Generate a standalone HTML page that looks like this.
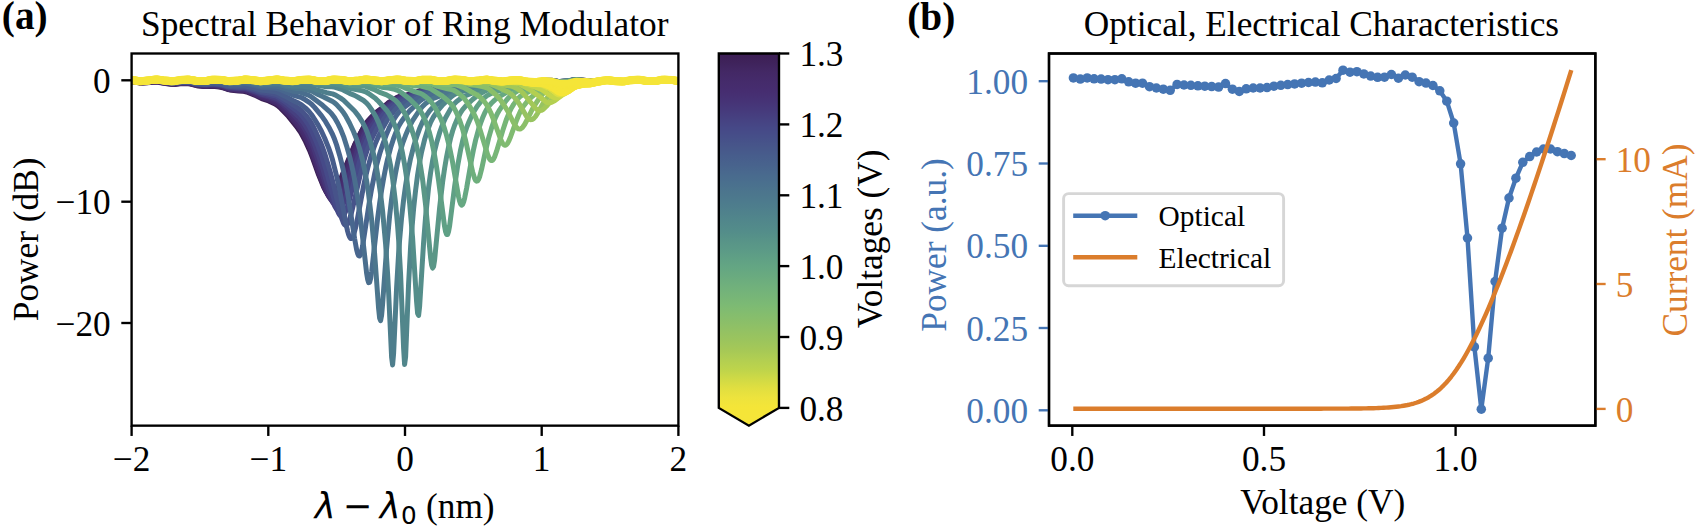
<!DOCTYPE html>
<html lang="en"><head><meta charset="utf-8"><title>Ring Modulator Figure</title>
<style>html,body{margin:0;padding:0;background:#fff;overflow:hidden}svg text{white-space:pre}</style></head>
<body>
<svg width="1699" height="528" viewBox="0 0 1699 528" style="display:block">
<rect width="1699" height="528" fill="#fff"/>
<defs>
<clipPath id="c1"><rect x="131.6" y="53.5" width="546.8" height="372.15"/></clipPath>
<linearGradient id="vg" x1="0" y1="0" x2="0" y2="1">
<stop offset="0.0000" stop-color="#3c1e54"/>
<stop offset="0.0250" stop-color="#3f235b"/>
<stop offset="0.0500" stop-color="#432865"/>
<stop offset="0.0750" stop-color="#452b6b"/>
<stop offset="0.1000" stop-color="#462d70"/>
<stop offset="0.1250" stop-color="#463275"/>
<stop offset="0.1500" stop-color="#46397b"/>
<stop offset="0.1750" stop-color="#464181"/>
<stop offset="0.2000" stop-color="#464887"/>
<stop offset="0.2250" stop-color="#464f89"/>
<stop offset="0.2500" stop-color="#47568a"/>
<stop offset="0.2750" stop-color="#475d8c"/>
<stop offset="0.3000" stop-color="#48638d"/>
<stop offset="0.3250" stop-color="#496a8e"/>
<stop offset="0.3500" stop-color="#4a708e"/>
<stop offset="0.3750" stop-color="#4c768d"/>
<stop offset="0.4000" stop-color="#4d7b8d"/>
<stop offset="0.4250" stop-color="#4f818c"/>
<stop offset="0.4500" stop-color="#51878b"/>
<stop offset="0.4750" stop-color="#538c8a"/>
<stop offset="0.5000" stop-color="#579388"/>
<stop offset="0.5250" stop-color="#5b9987"/>
<stop offset="0.5500" stop-color="#5fa085"/>
<stop offset="0.5750" stop-color="#64a683"/>
<stop offset="0.6000" stop-color="#6aab7f"/>
<stop offset="0.6250" stop-color="#70b07c"/>
<stop offset="0.6500" stop-color="#76b578"/>
<stop offset="0.6750" stop-color="#7cba74"/>
<stop offset="0.7000" stop-color="#84bd6e"/>
<stop offset="0.7250" stop-color="#8cbf68"/>
<stop offset="0.7500" stop-color="#95c262"/>
<stop offset="0.7750" stop-color="#9dc55c"/>
<stop offset="0.8000" stop-color="#a7c956"/>
<stop offset="0.8250" stop-color="#b3cf51"/>
<stop offset="0.8500" stop-color="#bed44b"/>
<stop offset="0.8750" stop-color="#d0da45"/>
<stop offset="0.9000" stop-color="#e1df40"/>
<stop offset="0.9250" stop-color="#ede33d"/>
<stop offset="0.9500" stop-color="#f4e538"/>
<stop offset="0.9750" stop-color="#f5e538"/>
<stop offset="1.0000" stop-color="#f5e538"/>
</linearGradient>
</defs>
<g clip-path="url(#c1)" fill="none" stroke-width="5.0" stroke-linejoin="round" stroke-linecap="round">
<polyline stroke="#3c1e54" points="131.6,81.7 134.6,82.1 138.6,82.9 140.6,83.2 156.6,82.0 163.6,83.2 172.6,84.5 174.6,84.4 179.6,83.8 188.6,83.8 190.6,84.1 196.6,85.7 203.6,86.5 206.6,86.6 212.6,86.2 219.6,87.1 222.6,87.7 227.6,89.5 229.6,89.9 238.6,91.1 243.6,91.3 246.6,92.0 254.6,95.1 261.6,98.6 268.6,100.9 275.6,104.3 277.6,105.6 279.6,107.3 287.6,115.5 297.6,128.0 300.6,132.4 305.6,141.6 309.6,150.4 312.6,158.1 318.6,174.8 323.6,187.0 325.6,190.8 326.6,192.2 327.6,193.3 328.6,194.0 329.6,194.4 330.6,194.3 331.6,193.9 333.6,192.3 335.6,189.5 337.6,185.9 339.6,181.4 345.6,166.4 354.6,144.7 360.6,132.6 363.6,127.2 365.6,124.0 367.6,121.4 369.6,119.1 373.6,115.1 376.6,112.4 382.6,108.0 388.6,103.1 395.6,98.8 398.6,97.3 400.6,96.8 404.6,96.0 413.6,93.8 415.6,93.1 421.6,90.6 429.6,88.9 431.6,88.7 436.6,88.9 438.6,88.8 446.6,87.5 452.6,85.7 455.6,85.3 463.6,85.1 468.6,85.6 471.6,85.5 486.6,82.8 493.6,83.4 502.6,83.8 504.6,83.5 509.6,82.4 518.6,81.6 520.6,81.7 526.6,82.6 533.6,82.6 536.6,82.4 542.6,81.1 550.6,81.1 552.6,81.2 557.6,82.1 559.6,82.2 568.6,81.5 573.6,80.5 575.6,80.4 584.6,81.1 589.6,81.9 591.6,82.0 597.6,81.1 607.6,80.1 614.6,81.1 622.6,81.7 625.6,81.5 630.6,80.5 638.6,80.1 641.6,80.4 645.6,81.2 647.6,81.4 656.6,81.3 661.6,80.3 664.6,80.0 672.6,80.4 677.6,81.3"/>
<polyline stroke="#41255f" points="131.6,80.8 134.6,81.2 139.6,82.2 141.6,82.3 156.6,81.1 158.6,81.3 163.6,82.3 172.6,83.5 174.6,83.5 179.6,82.9 188.6,82.9 190.6,83.2 196.6,84.7 203.6,85.5 206.6,85.7 212.6,85.2 220.6,86.2 222.6,86.7 227.6,88.4 229.6,88.9 238.6,90.0 243.6,90.2 246.6,90.8 254.6,93.9 261.6,97.3 268.6,99.6 276.6,103.4 278.6,104.8 280.6,106.7 288.6,114.9 297.6,126.0 299.6,128.7 301.6,131.9 305.6,139.4 309.6,148.1 312.6,155.8 320.6,178.4 324.6,188.2 326.6,192.0 327.6,193.4 328.6,194.4 329.6,195.0 330.6,195.2 331.6,195.1 332.6,194.6 333.6,193.8 335.6,191.4 337.6,187.9 340.6,181.0 351.6,152.9 355.6,143.3 358.6,136.9 362.6,129.2 364.6,125.7 366.6,122.6 368.6,120.1 371.6,116.9 374.6,113.8 377.6,111.2 382.6,107.5 387.6,103.3 389.6,101.8 396.6,97.6 399.6,96.3 405.6,95.1 413.6,93.0 415.6,92.3 421.6,89.8 429.6,88.1 431.6,87.8 436.6,88.0 439.6,87.8 447.6,86.4 452.6,84.9 455.6,84.4 463.6,84.3 469.6,84.8 471.6,84.7 486.6,82.0 488.6,82.0 493.6,82.5 502.6,82.9 504.6,82.7 509.6,81.6 517.6,80.8 520.6,80.8 526.6,81.7 534.6,81.7 536.6,81.5 541.6,80.4 544.6,80.2 551.6,80.3 557.6,81.2 559.6,81.4 568.6,80.7 573.6,79.7 575.6,79.5 584.6,80.3 589.6,81.0 591.6,81.1 597.6,80.3 607.6,79.3 614.6,80.3 622.6,80.8 625.6,80.6 630.6,79.7 638.6,79.3 641.6,79.5 645.6,80.3 648.6,80.6 656.6,80.4 662.6,79.3 664.6,79.2 672.6,79.6 677.6,80.5"/>
<polyline stroke="#442b6a" points="131.6,81.7 134.6,82.0 139.6,82.9 141.6,83.1 155.6,81.9 157.6,81.9 163.6,83.0 172.6,84.3 174.6,84.3 180.6,83.6 188.6,83.6 190.6,83.9 196.6,85.4 204.6,86.3 207.6,86.3 212.6,85.8 215.6,86.1 222.6,87.3 229.6,89.5 238.6,90.5 244.6,90.8 246.6,91.2 255.6,94.7 261.6,97.6 268.6,99.7 276.6,103.4 278.6,104.7 280.6,106.4 289.6,115.5 298.6,126.4 300.6,129.2 302.6,132.5 306.6,140.1 310.6,149.0 313.6,157.1 321.6,180.2 325.6,190.7 327.6,194.7 328.6,196.2 329.6,197.3 330.6,198.0 331.6,198.3 332.6,198.2 333.6,197.8 334.6,197.1 336.6,194.6 338.6,191.0 341.6,183.7 352.6,154.3 355.6,146.7 361.6,133.8 364.6,128.2 366.6,124.9 370.6,119.9 374.6,115.7 377.6,112.9 382.6,109.0 389.6,103.1 396.6,98.8 399.6,97.4 405.6,96.1 414.6,93.7 420.6,91.1 422.6,90.5 429.6,89.0 432.6,88.7 436.6,88.9 439.6,88.7 447.6,87.3 453.6,85.6 455.6,85.3 464.6,85.2 469.6,85.6 471.6,85.6 486.6,82.9 488.6,82.8 493.6,83.4 502.6,83.8 504.6,83.6 510.6,82.3 517.6,81.7 520.6,81.7 526.6,82.6 534.6,82.6 537.6,82.2 541.6,81.3 544.6,81.0 552.6,81.2 557.6,82.1 560.6,82.2 568.6,81.6 575.6,80.4 585.6,81.2 591.6,82.0 593.6,81.9 598.6,81.1 607.6,80.2 609.6,80.3 614.6,81.2 623.6,81.7 625.6,81.6 631.6,80.5 638.6,80.2 641.6,80.4 646.6,81.4 648.6,81.5 656.6,81.3 662.6,80.2 664.6,80.1 673.6,80.6 677.6,81.3"/>
<polyline stroke="#462d70" points="131.6,81.4 140.6,82.8 156.6,81.6 162.6,82.6 172.6,83.9 179.6,83.2 187.6,83.2 190.6,83.6 195.6,84.9 203.6,85.8 206.6,85.9 210.6,85.4 212.6,85.3 219.6,86.2 222.6,86.8 227.6,88.5 229.6,88.9 237.6,89.7 243.6,89.9 245.6,90.2 254.6,93.4 260.6,96.2 268.6,98.5 274.6,100.9 276.6,101.9 278.6,103.3 280.6,105.0 286.6,110.4 289.6,113.5 298.6,123.7 300.6,126.4 303.6,131.3 307.6,138.8 311.6,148.0 316.6,162.2 324.6,186.2 327.6,194.0 329.6,197.8 330.6,199.2 331.6,200.3 332.6,201.0 333.6,201.3 334.6,201.2 335.6,200.7 336.6,199.7 337.6,198.4 339.6,194.6 343.6,184.2 352.6,158.4 355.6,150.3 361.6,136.3 364.6,130.3 366.6,126.9 368.6,124.0 371.6,120.3 376.6,114.8 381.6,110.6 388.6,104.3 395.6,99.6 398.6,98.0 413.6,94.0 421.6,90.7 429.6,88.9 431.6,88.7 436.6,88.9 438.6,88.7 446.6,87.4 452.6,85.6 454.6,85.2 463.6,85.0 468.6,85.5 470.6,85.5 486.6,82.7 501.6,83.6 503.6,83.5 509.6,82.3 517.6,81.4 520.6,81.5 525.6,82.4 533.6,82.4 536.6,82.2 540.6,81.2 542.6,80.9 550.6,80.9 552.6,81.1 557.6,82.0 559.6,82.0 567.6,81.5 573.6,80.4 575.6,80.3 584.6,81.0 589.6,81.7 591.6,81.8 606.6,80.0 608.6,80.1 613.6,80.9 622.6,81.6 624.6,81.5 630.6,80.4 638.6,80.0 640.6,80.1 645.6,81.1 647.6,81.3 655.6,81.2 657.6,81.0 661.6,80.1 664.6,79.9 672.6,80.3 677.6,81.2"/>
<polyline stroke="#463678" points="131.6,80.9 134.6,81.2 139.6,82.1 141.6,82.3 155.6,81.1 157.6,81.0 163.6,82.1 172.6,83.3 174.6,83.3 180.6,82.6 188.6,82.6 191.6,83.0 196.6,84.3 204.6,85.1 207.6,85.1 212.6,84.6 215.6,84.8 222.6,85.9 228.6,87.8 230.6,88.1 239.6,88.9 244.6,89.0 246.6,89.4 255.6,92.5 261.6,95.2 269.6,97.3 275.6,99.6 277.6,100.6 280.6,102.7 288.6,109.8 297.6,119.2 299.6,121.4 301.6,124.1 305.6,130.6 309.6,138.3 313.6,148.1 319.6,165.7 326.6,188.0 329.6,196.4 331.6,200.6 332.6,202.3 333.6,203.5 334.6,204.4 335.6,204.8 336.6,204.8 337.6,204.2 338.6,203.2 339.6,201.7 341.6,197.5 345.6,186.3 354.6,158.4 357.6,150.0 363.6,135.5 365.6,131.4 367.6,127.9 369.6,124.9 373.6,119.7 376.6,116.2 378.6,114.2 389.6,104.2 396.6,99.4 399.6,97.8 405.6,96.3 414.6,93.6 422.6,90.2 429.6,88.7 432.6,88.3 437.6,88.5 439.6,88.3 447.6,86.8 453.6,85.1 455.6,84.7 464.6,84.6 469.6,85.0 471.6,85.0 485.6,82.4 487.6,82.2 493.6,82.8 502.6,83.2 504.6,83.0 510.6,81.7 518.6,81.0 521.6,81.2 526.6,82.0 534.6,82.0 537.6,81.6 542.6,80.5 544.6,80.4 552.6,80.6 557.6,81.5 560.6,81.6 568.6,81.0 575.6,79.8 585.6,80.6 591.6,81.4 593.6,81.3 598.6,80.5 607.6,79.6 609.6,79.7 614.6,80.6 623.6,81.1 625.6,81.0 631.6,79.9 639.6,79.6 641.6,79.8 646.6,80.8 648.6,80.9 656.6,80.8 662.6,79.7 664.6,79.5 673.6,80.0 677.6,80.7"/>
<polyline stroke="#464080" points="131.6,81.1 134.6,81.4 138.6,82.2 140.6,82.4 156.6,81.1 158.6,81.3 163.6,82.3 172.6,83.4 174.6,83.3 179.6,82.7 188.6,82.6 190.6,82.9 196.6,84.3 203.6,85.0 206.6,85.1 212.6,84.5 219.6,85.2 222.6,85.7 227.6,87.3 229.6,87.7 238.6,88.5 243.6,88.4 246.6,88.9 254.6,91.5 261.6,94.3 267.6,95.5 274.6,97.7 276.6,98.5 278.6,99.6 288.6,107.4 299.6,117.8 303.6,123.0 308.6,131.2 310.6,135.2 312.6,139.8 318.6,155.9 321.6,164.9 328.6,188.6 332.6,200.9 334.6,205.8 335.6,207.7 336.6,209.2 337.6,210.1 338.6,210.4 339.6,210.1 340.6,209.2 341.6,207.7 342.6,205.8 344.6,200.9 347.6,191.8 354.6,167.4 357.6,157.8 360.6,149.1 363.6,141.2 365.6,136.6 367.6,132.6 370.6,127.6 373.6,123.2 376.6,119.3 378.6,117.1 386.6,108.7 389.6,105.9 396.6,100.6 399.6,99.0 414.6,94.4 421.6,91.2 429.6,89.2 431.6,89.0 436.6,89.1 439.6,88.8 447.6,87.3 452.6,85.7 454.6,85.3 463.6,85.0 470.6,85.4 486.6,82.6 488.6,82.6 493.6,83.1 502.6,83.5 504.6,83.3 509.6,82.1 517.6,81.3 520.6,81.4 526.6,82.3 533.6,82.3 536.6,82.1 541.6,80.9 544.6,80.7 551.6,80.8 557.6,81.8 559.6,81.9 568.6,81.2 573.6,80.3 575.6,80.1 584.6,80.9 589.6,81.6 591.6,81.7 597.6,80.9 607.6,79.9 614.6,80.9 622.6,81.5 625.6,81.2 630.6,80.3 638.6,79.9 641.6,80.1 645.6,81.0 647.6,81.2 656.6,81.1 661.6,80.1 664.6,79.8 672.6,80.2 677.6,81.1"/>
<polyline stroke="#464a88" points="131.6,80.8 138.6,82.0 140.6,82.1 149.6,81.5 154.6,80.8 156.6,80.8 171.6,83.0 173.6,83.0 178.6,82.3 187.6,82.0 189.6,82.3 195.6,83.7 203.6,84.5 205.6,84.5 211.6,83.8 219.6,84.5 221.6,84.9 226.6,86.4 228.6,86.8 236.6,87.5 242.6,87.3 245.6,87.7 253.6,90.0 260.6,92.6 266.6,93.7 274.6,95.7 276.6,96.4 278.6,97.5 287.6,103.7 292.6,107.8 297.6,111.6 299.6,113.4 302.6,116.7 305.6,120.6 307.6,123.5 309.6,126.8 312.6,132.9 315.6,139.9 318.6,147.4 321.6,155.8 326.6,172.1 334.6,201.4 337.6,210.9 338.6,213.2 339.6,214.9 340.6,216.0 341.6,216.4 342.6,216.1 343.6,215.3 344.6,213.8 346.6,209.2 349.6,199.2 355.6,175.7 360.6,158.0 364.6,145.9 366.6,141.0 368.6,136.7 372.6,129.2 375.6,124.4 385.6,111.9 388.6,108.6 394.6,103.3 397.6,101.2 399.6,100.2 408.6,96.9 413.6,95.3 420.6,91.9 428.6,89.6 430.6,89.3 435.6,89.3 438.6,89.0 446.6,87.5 451.6,85.9 453.6,85.4 462.6,84.9 469.6,85.4 479.6,83.8 485.6,82.5 487.6,82.5 491.6,82.9 501.6,83.4 503.6,83.2 508.6,82.1 517.6,81.1 519.6,81.2 525.6,82.1 533.6,82.2 535.6,82.0 541.6,80.8 549.6,80.6 551.6,80.7 556.6,81.6 558.6,81.8 567.6,81.2 572.6,80.2 574.6,80.0 583.6,80.6 588.6,81.4 590.6,81.6 606.6,79.7 613.6,80.7 621.6,81.3 624.6,81.2 629.6,80.2 638.6,79.7 640.6,79.9 645.6,80.9 647.6,81.0 655.6,81.0 661.6,79.8 663.6,79.7 671.6,80.0 677.6,81.1"/>
<polyline stroke="#47538a" points="131.6,81.1 134.6,81.4 138.6,82.2 140.6,82.4 156.6,81.0 158.6,81.2 163.6,82.1 172.6,83.2 174.6,83.1 179.6,82.3 188.6,82.2 190.6,82.4 195.6,83.7 197.6,83.9 205.6,84.5 211.6,83.8 213.6,83.8 221.6,84.6 227.6,86.3 229.6,86.6 238.6,87.1 243.6,86.9 245.6,87.1 254.6,89.5 261.6,91.9 268.6,92.8 275.6,94.4 277.6,95.0 279.6,96.1 287.6,101.0 293.6,105.2 298.6,108.4 300.6,109.9 303.6,112.8 306.6,116.3 309.6,120.2 311.6,123.5 314.6,129.3 320.6,142.5 322.6,147.6 325.6,156.4 330.6,173.1 333.6,184.9 339.6,211.0 341.6,218.2 343.6,223.3 344.6,224.7 345.6,225.4 346.6,225.1 347.6,224.0 348.6,222.1 350.6,216.1 352.6,208.1 360.6,173.3 363.6,161.7 365.6,154.9 367.6,149.0 370.6,141.5 373.6,135.0 376.6,129.3 379.6,124.6 387.6,113.4 390.6,110.0 396.6,104.4 398.6,102.9 400.6,101.9 409.6,98.1 414.6,96.2 420.6,93.1 423.6,92.0 429.6,90.4 432.6,90.0 436.6,90.0 438.6,89.8 447.6,88.0 452.6,86.3 454.6,85.9 463.6,85.5 470.6,85.9 486.6,82.9 488.6,82.9 493.6,83.4 502.6,83.8 504.6,83.5 509.6,82.4 517.6,81.6 520.6,81.6 526.6,82.6 533.6,82.6 536.6,82.3 541.6,81.2 544.6,81.0 551.6,81.1 557.6,82.1 559.6,82.2 568.6,81.5 573.6,80.5 575.6,80.4 584.6,81.1 589.6,81.9 591.6,82.0 597.6,81.1 607.6,80.1 614.6,81.2 622.6,81.7 625.6,81.5 630.6,80.5 638.6,80.2 641.6,80.4 645.6,81.2 647.6,81.5 656.6,81.3 661.6,80.3 664.6,80.1 672.6,80.5 677.6,81.4"/>
<polyline stroke="#475d8c" points="131.6,81.0 134.6,81.4 138.6,82.2 140.6,82.3 149.6,81.6 154.6,80.9 156.6,80.8 162.6,81.8 172.6,82.9 179.6,82.0 187.6,81.8 189.6,81.9 195.6,83.3 203.6,84.0 206.6,83.9 211.6,83.2 213.6,83.2 221.6,83.9 226.6,85.3 229.6,85.8 237.6,86.1 242.6,85.8 245.6,86.0 254.6,88.1 260.6,90.0 267.6,90.7 275.6,91.9 277.6,92.5 287.6,97.5 293.6,100.9 298.6,103.1 301.6,104.9 305.6,108.2 308.6,111.0 311.6,114.7 314.6,119.3 318.6,125.9 321.6,131.5 324.6,138.0 328.6,147.9 330.6,153.6 332.6,160.1 336.6,176.0 339.6,190.2 345.6,221.9 347.6,231.1 348.6,234.6 349.6,237.1 350.6,238.4 351.6,238.4 352.6,237.2 353.6,234.9 355.6,227.5 357.6,217.9 363.6,186.0 365.6,176.6 367.6,168.3 370.6,157.6 373.6,148.4 375.6,143.0 378.6,136.1 383.6,126.4 387.6,119.4 391.6,113.9 396.6,108.1 398.6,106.4 400.6,105.0 408.6,100.7 414.6,97.9 420.6,94.3 423.6,93.1 429.6,91.3 431.6,90.9 436.6,90.7 438.6,90.5 446.6,88.7 453.6,86.5 462.6,85.8 468.6,86.2 470.6,86.1 480.6,84.3 484.6,83.3 486.6,83.1 501.6,84.0 503.6,83.8 509.6,82.5 517.6,81.7 519.6,81.7 525.6,82.6 533.6,82.7 536.6,82.3 541.6,81.2 543.6,81.1 551.6,81.1 556.6,82.0 559.6,82.2 567.6,81.7 574.6,80.5 583.6,81.1 589.6,82.0 591.6,82.0 606.6,80.2 608.6,80.3 613.6,81.1 622.6,81.8 624.6,81.7 630.6,80.6 638.6,80.2 640.6,80.4 645.6,81.4 647.6,81.5 655.6,81.5 661.6,80.4 663.6,80.2 672.6,80.6 677.6,81.5"/>
<polyline stroke="#48668e" points="131.6,80.1 135.6,80.5 140.6,81.3 142.6,81.4 156.6,79.9 158.6,79.9 164.6,80.9 173.6,81.8 175.6,81.7 181.6,80.7 189.6,80.6 191.6,80.8 196.6,82.0 199.6,82.3 206.6,82.5 212.6,81.7 215.6,81.7 223.6,82.6 228.6,83.8 230.6,84.1 239.6,84.2 244.6,83.8 246.6,83.8 256.6,86.0 262.6,87.6 269.6,87.8 276.6,88.6 279.6,89.3 285.6,92.0 294.6,95.6 301.6,97.7 304.6,99.3 309.6,102.6 311.6,104.2 314.6,107.4 321.6,115.9 325.6,121.7 329.6,128.6 332.6,134.5 334.6,139.3 336.6,145.0 339.6,155.2 341.6,162.9 343.6,171.7 345.6,181.7 348.6,199.1 354.6,238.6 356.6,249.6 357.6,253.5 358.6,255.7 359.6,256.0 360.6,254.4 361.6,251.0 362.6,246.1 369.6,200.3 371.6,188.9 374.6,173.9 376.6,165.2 379.6,154.1 382.6,144.8 386.6,134.0 389.6,127.1 392.6,121.4 396.6,115.2 399.6,111.3 402.6,108.5 409.6,103.3 416.6,98.9 422.6,94.9 425.6,93.6 431.6,91.6 433.6,91.2 438.6,90.8 440.6,90.4 448.6,88.2 455.6,85.9 457.6,85.7 465.6,85.4 471.6,85.6 478.6,84.1 487.6,82.5 489.6,82.5 494.6,83.0 503.6,83.2 505.6,82.9 511.6,81.6 518.6,81.0 521.6,81.0 526.6,81.9 529.6,82.0 536.6,81.7 542.6,80.5 544.6,80.2 553.6,80.5 558.6,81.4 560.6,81.5 569.6,80.7 574.6,79.8 576.6,79.7 592.6,81.3 599.6,80.2 608.6,79.5 610.6,79.6 615.6,80.6 623.6,81.0 626.6,80.8 632.6,79.7 639.6,79.6 642.6,79.8 646.6,80.6 649.6,80.9 657.6,80.6 663.6,79.5 665.6,79.4 673.6,79.9 677.6,80.5"/>
<polyline stroke="#4a6e8e" points="131.6,80.4 134.6,80.7 138.6,81.5 140.6,81.6 149.6,80.8 154.6,80.1 156.6,80.0 162.6,80.9 172.6,81.9 178.6,81.0 187.6,80.5 189.6,80.6 195.6,81.8 203.6,82.3 206.6,82.2 210.6,81.4 213.6,81.3 221.6,81.8 226.6,83.0 229.6,83.4 237.6,83.4 242.6,82.8 244.6,82.8 253.6,84.2 260.6,85.9 266.6,85.9 276.6,86.3 278.6,86.7 282.6,88.2 292.6,91.2 300.6,92.4 307.6,94.8 309.6,95.7 311.6,97.0 322.6,105.3 329.6,111.6 331.6,113.7 334.6,117.8 337.6,123.0 340.6,129.1 343.6,136.6 346.6,145.9 349.6,156.7 351.6,164.8 353.6,174.1 355.6,184.9 357.6,197.4 360.6,219.7 366.6,273.0 367.6,279.2 368.6,282.6 369.6,282.3 370.6,278.6 371.6,272.1 377.6,218.6 379.6,203.5 381.6,190.2 383.6,178.5 385.6,168.1 387.6,159.1 390.6,147.8 393.6,138.4 396.6,130.6 398.6,126.3 401.6,121.2 405.6,115.7 409.6,110.9 418.6,102.2 420.6,100.4 422.6,99.0 427.6,96.2 430.6,94.8 438.6,93.1 446.6,90.5 453.6,87.8 455.6,87.4 462.6,86.7 468.6,86.8 470.6,86.7 479.6,84.8 484.6,83.5 486.6,83.3 501.6,83.9 503.6,83.7 509.6,82.4 517.6,81.4 519.6,81.4 525.6,82.3 533.6,82.4 536.6,82.0 540.6,81.1 543.6,80.8 551.6,80.8 556.6,81.7 559.6,81.9 567.6,81.3 574.6,80.1 583.6,80.7 590.6,81.6 606.6,79.8 608.6,79.9 613.6,80.8 622.6,81.4 624.6,81.3 630.6,80.2 638.6,79.8 640.6,80.0 645.6,81.0 647.6,81.2 655.6,81.1 661.6,80.0 663.6,79.8 671.6,80.1 677.6,81.2"/>
<polyline stroke="#4c768d" points="131.6,80.2 135.6,80.6 140.6,81.4 142.6,81.4 147.6,80.7 157.6,79.8 159.6,79.9 164.6,80.8 173.6,81.6 175.6,81.4 181.6,80.4 189.6,80.2 191.6,80.4 197.6,81.6 205.6,81.8 208.6,81.5 212.6,80.7 214.6,80.6 222.6,81.2 228.6,82.4 230.6,82.7 239.6,82.3 244.6,81.7 246.6,81.7 262.6,84.5 269.6,84.1 278.6,84.3 280.6,84.8 285.6,86.4 293.6,88.1 295.6,88.4 300.6,88.4 302.6,88.7 310.6,90.7 312.6,91.5 318.6,94.8 323.6,97.0 332.6,101.5 334.6,102.8 336.6,104.6 341.6,110.2 343.6,112.8 345.6,115.9 349.6,123.3 353.6,131.7 356.6,139.2 359.6,148.7 362.6,160.3 364.6,169.6 366.6,180.7 368.6,194.1 371.6,219.6 374.6,253.2 378.6,308.6 379.6,318.0 380.6,320.6 381.6,315.2 382.6,304.0 386.6,248.5 389.6,216.0 391.6,199.0 393.6,184.9 395.6,172.9 397.6,162.6 399.6,153.9 402.6,143.5 405.6,135.3 408.6,128.3 412.6,120.7 418.6,111.5 422.6,106.3 425.6,103.5 429.6,100.4 432.6,98.6 439.6,96.1 453.6,89.7 455.6,89.0 457.6,88.6 464.6,87.7 471.6,87.5 477.6,85.9 487.6,83.7 489.6,83.6 494.6,84.0 503.6,84.0 505.6,83.7 511.6,82.3 518.6,81.6 521.6,81.6 526.6,82.4 529.6,82.5 536.6,82.2 542.6,80.9 544.6,80.7 552.6,80.8 558.6,81.8 560.6,81.9 569.6,81.1 574.6,80.2 576.6,80.0 592.6,81.6 599.6,80.6 608.6,79.8 610.6,80.0 615.6,80.9 623.6,81.3 626.6,81.1 630.6,80.2 632.6,80.0 639.6,79.9 642.6,80.1 646.6,80.9 649.6,81.2 657.6,80.9 663.6,79.8 665.6,79.7 673.6,80.2 677.6,80.9"/>
<polyline stroke="#4e7e8c" points="131.6,80.6 134.6,80.8 139.6,81.7 141.6,81.8 150.6,80.8 155.6,80.1 157.6,80.1 163.6,81.0 172.6,81.9 174.6,81.7 180.6,80.8 188.6,80.4 190.6,80.5 196.6,81.7 204.6,81.9 206.6,81.8 211.6,80.9 214.6,80.7 221.6,81.1 227.6,82.3 229.6,82.5 238.6,82.1 243.6,81.4 245.6,81.3 254.6,82.5 261.6,83.7 267.6,83.3 277.6,83.1 279.6,83.4 284.6,84.7 293.6,86.3 295.6,86.3 300.6,86.1 307.6,86.9 311.6,87.8 317.6,90.2 326.6,92.7 332.6,93.9 335.6,95.1 340.6,98.1 343.6,100.2 354.6,111.0 358.6,116.1 362.6,122.4 365.6,128.3 367.6,133.4 370.6,142.8 373.6,154.3 376.6,168.5 378.6,180.3 380.6,194.3 382.6,211.1 385.6,243.9 387.6,273.8 388.6,292.3 391.6,357.2 392.6,364.9 393.6,353.5 396.6,287.7 398.6,253.8 399.6,240.1 401.6,217.6 403.6,199.9 405.6,185.3 407.6,173.1 410.6,158.3 413.6,146.6 416.6,136.9 419.6,128.6 422.6,121.8 426.6,115.1 429.6,110.9 431.6,108.6 433.6,106.8 442.6,100.2 452.6,93.8 454.6,92.8 456.6,92.1 463.6,90.4 469.6,89.9 471.6,89.5 476.6,87.9 484.6,85.7 487.6,85.1 493.6,85.3 502.6,85.2 504.6,84.8 510.6,83.4 518.6,82.4 520.6,82.4 526.6,83.2 533.6,83.0 536.6,82.8 542.6,81.4 550.6,81.3 552.6,81.4 557.6,82.3 559.6,82.4 568.6,81.6 573.6,80.7 575.6,80.5 584.6,81.2 591.6,82.0 597.6,81.2 607.6,80.2 609.6,80.4 614.6,81.2 622.6,81.8 625.6,81.6 630.6,80.6 638.6,80.2 641.6,80.4 645.6,81.3 648.6,81.6 656.6,81.4 662.6,80.3 664.6,80.1 672.6,80.5 677.6,81.4"/>
<polyline stroke="#51868b" points="131.6,79.9 140.6,81.1 156.6,79.4 162.6,80.2 172.6,81.2 174.6,81.0 179.6,80.1 187.6,79.6 190.6,79.8 196.6,80.9 203.6,81.1 206.6,80.9 210.6,80.1 213.6,79.8 221.6,80.0 227.6,81.2 229.6,81.3 237.6,81.0 243.6,80.0 245.6,79.9 254.6,80.9 260.6,81.9 262.6,81.9 267.6,81.3 276.6,80.7 278.6,80.9 284.6,82.2 292.6,83.2 294.6,83.3 300.6,82.6 308.6,83.0 310.6,83.3 315.6,84.9 318.6,85.6 326.6,86.7 331.6,86.7 333.6,86.9 341.6,89.3 343.6,90.2 349.6,93.4 354.6,95.4 357.6,97.0 363.6,100.5 366.6,103.1 368.6,105.4 371.6,109.6 375.6,116.2 378.6,122.6 382.6,133.2 385.6,142.8 387.6,150.6 390.6,165.7 392.6,178.5 395.6,203.4 397.6,225.8 398.6,239.5 400.6,274.3 403.6,348.1 404.6,364.5 405.6,357.0 408.6,283.6 410.6,247.0 411.6,232.5 413.6,208.9 415.6,190.2 417.6,174.9 419.6,162.3 421.6,151.9 424.6,139.6 427.6,130.0 430.6,122.4 433.6,116.7 437.6,111.0 442.6,104.9 451.6,96.5 453.6,95.0 455.6,93.9 462.6,91.3 464.6,90.8 470.6,89.8 475.6,88.0 484.6,85.2 487.6,84.6 502.6,84.4 509.6,82.7 518.6,81.5 520.6,81.6 525.6,82.3 533.6,82.2 536.6,81.9 542.6,80.6 550.6,80.5 552.6,80.6 557.6,81.5 559.6,81.6 567.6,81.0 573.6,79.9 575.6,79.8 584.6,80.5 590.6,81.3 592.6,81.3 596.6,80.6 606.6,79.5 608.6,79.6 614.6,80.6 622.6,81.1 624.6,81.1 630.6,80.0 638.6,79.6 640.6,79.7 645.6,80.7 647.6,80.9 655.6,80.9 657.6,80.6 661.6,79.8 664.6,79.5 672.6,79.9 677.6,80.9"/>
<polyline stroke="#548e8a" points="131.6,79.9 140.6,81.1 156.6,79.4 162.6,80.2 172.6,81.1 179.6,80.0 187.6,79.5 190.6,79.7 195.6,80.7 203.6,81.0 206.6,80.8 210.6,79.9 213.6,79.7 221.6,79.9 227.6,81.0 229.6,81.1 237.6,80.7 243.6,79.7 245.6,79.7 254.6,80.6 260.6,81.5 262.6,81.5 266.6,80.9 276.6,80.1 278.6,80.2 283.6,81.2 292.6,82.3 294.6,82.2 300.6,81.4 308.6,81.5 310.6,81.8 315.6,83.2 317.6,83.5 325.6,84.2 331.6,83.9 333.6,83.9 341.6,85.5 343.6,86.1 349.6,88.3 362.6,90.9 365.6,91.8 368.6,93.5 375.6,98.6 378.6,101.5 386.6,110.2 389.6,114.6 392.6,120.3 395.6,127.3 397.6,133.0 400.6,144.2 402.6,153.6 404.6,164.6 406.6,177.7 409.6,202.9 412.6,238.0 416.6,301.8 417.6,313.4 418.6,315.4 419.6,306.7 423.6,242.3 425.6,216.6 428.6,187.4 430.6,172.6 432.6,160.6 434.6,151.0 436.6,142.9 439.6,132.7 442.6,124.4 445.6,117.8 450.6,108.9 453.6,104.6 456.6,101.5 460.6,98.4 463.6,96.5 470.6,93.7 476.6,90.7 485.6,87.0 488.6,86.4 502.6,85.5 509.6,83.6 517.6,82.3 520.6,82.2 525.6,82.8 533.6,82.6 536.6,82.3 540.6,81.2 542.6,80.9 549.6,80.7 552.6,80.8 557.6,81.7 559.6,81.7 567.6,81.1 573.6,80.0 575.6,79.8 584.6,80.5 589.6,81.3 591.6,81.4 606.6,79.5 608.6,79.6 614.6,80.5 622.6,81.1 624.6,81.0 630.6,79.9 638.6,79.6 640.6,79.7 645.6,80.7 647.6,80.9 655.6,80.8 657.6,80.6 661.6,79.7 664.6,79.5 672.6,79.9 677.6,80.8"/>
<polyline stroke="#5a9787" points="131.6,80.2 137.6,81.2 139.6,81.4 148.6,80.7 153.6,79.9 155.6,79.7 171.6,81.4 178.6,80.5 186.6,79.8 189.6,80.0 194.6,80.9 202.6,81.3 205.6,81.1 211.6,80.1 218.6,80.0 221.6,80.2 225.6,81.1 228.6,81.4 236.6,81.1 242.6,80.0 244.6,79.9 253.6,80.6 258.6,81.5 260.6,81.6 270.6,80.7 274.6,80.1 276.6,80.1 282.6,81.0 291.6,82.0 293.6,81.9 299.6,81.0 307.6,80.8 310.6,81.2 315.6,82.3 323.6,82.9 326.6,82.9 330.6,82.3 333.6,82.3 341.6,83.2 348.6,85.2 357.6,86.0 363.6,86.1 365.6,86.4 373.6,89.3 380.6,92.7 386.6,94.9 391.6,97.7 395.6,100.5 398.6,103.7 402.6,109.6 406.6,116.7 409.6,123.5 411.6,128.9 414.6,138.5 416.6,146.0 419.6,160.3 422.6,179.5 425.6,205.0 430.6,257.6 431.6,264.9 432.6,268.1 433.6,266.4 434.6,260.1 439.6,208.1 442.6,182.1 444.6,168.3 446.6,156.7 448.6,146.7 450.6,138.2 452.6,131.0 454.6,125.2 457.6,118.2 460.6,112.6 462.6,109.6 465.6,106.1 472.6,99.5 475.6,97.0 483.6,91.7 486.6,90.3 495.6,88.5 501.6,87.7 508.6,85.4 517.6,83.5 519.6,83.5 524.6,83.9 532.6,83.6 535.6,83.2 539.6,82.1 541.6,81.7 548.6,81.3 551.6,81.4 556.6,82.2 559.6,82.2 566.6,81.7 572.6,80.5 574.6,80.3 583.6,80.9 589.6,81.8 591.6,81.7 604.6,80.0 606.6,79.9 612.6,80.7 621.6,81.5 623.6,81.4 629.6,80.4 637.6,79.9 639.6,80.0 644.6,81.0 646.6,81.2 654.6,81.3 656.6,81.0 660.6,80.2 663.6,79.9 671.6,80.2 677.6,81.3"/>
<polyline stroke="#5fa085" points="131.6,79.9 134.6,80.2 138.6,81.0 140.6,81.1 156.6,79.4 162.6,80.2 171.6,81.1 173.6,81.0 179.6,80.0 187.6,79.5 189.6,79.6 195.6,80.7 203.6,81.0 206.6,80.7 211.6,79.7 213.6,79.6 221.6,79.8 226.6,80.8 229.6,81.1 237.6,80.6 244.6,79.5 254.6,80.3 260.6,81.2 276.6,79.6 278.6,79.7 283.6,80.6 292.6,81.4 294.6,81.2 300.6,80.3 307.6,80.0 310.6,80.2 316.6,81.4 323.6,81.7 326.6,81.6 331.6,80.8 333.6,80.7 342.6,81.5 347.6,82.8 349.6,83.1 358.6,83.2 363.6,82.9 365.6,82.9 375.6,85.4 381.6,87.2 388.6,88.0 394.6,89.4 396.6,90.0 398.6,90.9 401.6,92.8 409.6,98.9 415.6,104.9 418.6,108.3 420.6,111.1 422.6,114.7 425.6,121.3 427.6,126.7 429.6,133.1 431.6,140.8 434.6,155.4 436.6,167.2 438.6,180.7 444.6,226.6 445.6,231.7 446.6,234.5 447.6,234.4 448.6,231.4 449.6,226.0 454.6,186.6 457.6,166.1 460.6,149.8 462.6,141.0 464.6,133.7 466.6,127.7 468.6,122.6 471.6,116.0 474.6,110.3 477.6,105.7 480.6,101.9 483.6,98.6 486.6,95.9 489.6,94.3 495.6,91.8 502.6,89.8 509.6,86.8 516.6,84.8 519.6,84.4 525.6,84.6 533.6,83.9 536.6,83.4 540.6,82.2 543.6,81.7 551.6,81.4 556.6,82.1 559.6,82.2 567.6,81.5 573.6,80.2 575.6,80.1 584.6,80.8 589.6,81.5 591.6,81.5 606.6,79.6 608.6,79.7 613.6,80.6 622.6,81.2 624.6,81.1 630.6,80.0 638.6,79.6 640.6,79.7 645.6,80.7 647.6,80.9 655.6,80.9 661.6,79.8 663.6,79.6 672.6,80.0 677.6,80.9"/>
<polyline stroke="#66a882" points="131.6,80.3 140.6,81.5 156.6,79.8 162.6,80.6 172.6,81.5 174.6,81.3 179.6,80.4 187.6,79.9 190.6,80.0 196.6,81.1 203.6,81.3 206.6,81.1 211.6,80.1 214.6,80.0 221.6,80.2 227.6,81.3 229.6,81.4 237.6,81.0 243.6,79.9 245.6,79.8 254.6,80.6 259.6,81.4 261.6,81.5 267.6,80.8 277.6,79.9 283.6,80.8 292.6,81.6 294.6,81.5 300.6,80.4 308.6,80.1 310.6,80.2 315.6,81.3 318.6,81.6 326.6,81.5 331.6,80.6 334.6,80.4 342.6,81.0 348.6,82.3 350.6,82.4 359.6,82.0 365.6,81.5 367.6,81.7 375.6,83.2 381.6,84.5 383.6,84.6 388.6,84.4 397.6,85.2 399.6,85.7 404.6,87.8 409.6,89.6 414.6,91.6 419.6,93.1 422.6,94.5 425.6,96.6 428.6,99.2 431.6,102.5 434.6,106.9 437.6,112.3 440.6,118.4 442.6,123.2 444.6,128.9 446.6,135.6 449.6,147.6 452.6,162.3 458.6,197.0 459.6,201.1 460.6,203.9 461.6,205.1 462.6,204.4 463.6,202.1 464.6,198.3 466.6,188.2 471.6,159.3 473.6,149.1 475.6,140.1 478.6,129.1 480.6,123.1 482.6,117.8 484.6,113.2 486.6,109.4 488.6,106.4 491.6,103.0 494.6,100.1 497.6,97.7 503.6,94.2 508.6,90.9 511.6,89.4 518.6,86.8 520.6,86.5 526.6,86.3 534.6,85.2 542.6,82.9 551.6,82.3 557.6,83.0 559.6,83.0 568.6,82.0 574.6,80.7 576.6,80.7 584.6,81.2 589.6,81.9 591.6,82.0 606.6,80.1 608.6,80.1 614.6,81.0 622.6,81.6 624.6,81.5 630.6,80.4 637.6,80.0 640.6,80.1 645.6,81.1 648.6,81.3 656.6,81.2 661.6,80.2 664.6,79.9 672.6,80.3 677.6,81.3"/>
<polyline stroke="#6eaf7c" points="131.6,80.2 133.6,80.4 138.6,81.3 140.6,81.4 149.6,80.5 154.6,79.7 156.6,79.7 161.6,80.4 171.6,81.4 173.6,81.3 178.6,80.4 187.6,79.7 189.6,79.9 195.6,80.9 203.6,81.2 205.6,81.1 211.6,80.0 219.6,80.0 221.6,80.1 226.6,81.1 228.6,81.3 237.6,80.8 242.6,79.9 244.6,79.7 253.6,80.4 260.6,81.4 276.6,79.7 283.6,80.7 292.6,81.4 294.6,81.2 299.6,80.3 307.6,79.9 310.6,80.1 316.6,81.2 323.6,81.3 326.6,81.1 331.6,80.2 333.6,80.0 341.6,80.4 347.6,81.6 349.6,81.7 358.6,81.2 363.6,80.4 365.6,80.4 374.6,81.6 379.6,82.5 381.6,82.7 387.6,82.2 395.6,82.0 397.6,82.1 404.6,84.0 412.6,85.6 414.6,85.9 420.6,86.0 427.6,87.7 429.6,88.3 431.6,89.3 441.6,95.6 444.6,97.9 448.6,101.4 451.6,104.5 453.6,107.3 455.6,110.9 457.6,115.2 459.6,120.1 462.6,129.1 465.6,140.5 472.6,171.9 474.6,178.3 475.6,180.3 476.6,181.2 477.6,180.9 478.6,179.4 479.6,176.8 481.6,169.2 485.6,150.6 488.6,138.1 491.6,127.9 493.6,122.2 495.6,117.3 497.6,113.2 499.6,109.8 503.6,103.9 506.6,100.0 508.6,97.7 510.6,95.9 514.6,92.9 517.6,91.0 520.6,89.9 524.6,89.1 534.6,86.8 540.6,84.5 542.6,84.0 550.6,83.0 552.6,83.0 556.6,83.5 559.6,83.4 567.6,82.4 572.6,81.2 574.6,80.9 583.6,81.3 590.6,82.0 606.6,80.0 608.6,80.1 613.6,80.9 622.6,81.5 624.6,81.4 629.6,80.4 637.6,79.9 640.6,80.1 646.6,81.1 653.6,81.2 656.6,81.0 661.6,80.0 663.6,79.9 671.6,80.2 677.6,81.2"/>
<polyline stroke="#77b677" points="131.6,80.0 140.6,81.2 156.6,79.5 162.6,80.3 172.6,81.2 174.6,81.0 179.6,80.1 187.6,79.6 190.6,79.8 196.6,80.8 203.6,81.0 206.6,80.8 211.6,79.8 214.6,79.7 221.6,79.9 227.6,81.0 229.6,81.1 237.6,80.7 243.6,79.6 245.6,79.5 254.6,80.3 259.6,81.1 261.6,81.2 276.6,79.5 278.6,79.6 284.6,80.6 292.6,81.2 294.6,81.1 300.6,80.0 308.6,79.7 310.6,79.8 315.6,80.8 317.6,81.0 325.6,81.0 327.6,80.8 331.6,79.9 334.6,79.7 342.6,80.2 348.6,81.2 350.6,81.3 359.6,80.6 365.6,79.8 367.6,79.9 381.6,81.8 383.6,81.7 388.6,81.0 397.6,80.6 399.6,80.8 405.6,82.1 413.6,83.1 415.6,83.1 421.6,82.6 430.6,83.7 437.6,86.3 447.6,88.7 451.6,89.6 453.6,90.2 456.6,91.9 459.6,94.2 462.6,96.8 464.6,99.0 467.6,103.1 470.6,107.9 473.6,113.2 475.6,117.4 477.6,122.4 479.6,128.2 487.6,154.4 489.6,158.9 490.6,160.2 491.6,160.6 492.6,160.2 493.6,158.9 494.6,156.9 496.6,151.2 502.6,131.0 506.6,118.9 509.6,111.6 511.6,107.7 513.6,104.4 517.6,98.9 519.6,96.9 521.6,95.5 529.6,91.3 535.6,88.9 540.6,86.4 543.6,85.3 549.6,84.2 552.6,83.9 557.6,84.2 559.6,84.1 567.6,82.8 573.6,81.3 575.6,81.1 584.6,81.4 590.6,82.0 592.6,81.9 597.6,81.1 606.6,79.9 608.6,80.0 614.6,80.9 622.6,81.4 624.6,81.3 630.6,80.2 637.6,79.8 640.6,79.9 645.6,80.8 648.6,81.1 656.6,80.9 661.6,79.9 664.6,79.7 672.6,80.1 677.6,81.0"/>
<polyline stroke="#80bb71" points="131.6,80.3 134.6,80.6 139.6,81.4 141.6,81.5 157.6,79.8 164.6,80.8 173.6,81.5 175.6,81.3 180.6,80.3 188.6,79.9 191.6,80.1 197.6,81.2 205.6,81.2 207.6,81.1 212.6,80.0 214.6,79.9 222.6,80.3 228.6,81.3 230.6,81.4 239.6,80.7 244.6,79.9 246.6,79.8 256.6,80.8 260.6,81.4 262.6,81.5 268.6,80.6 277.6,79.8 279.6,79.9 285.6,80.9 293.6,81.4 295.6,81.3 300.6,80.3 302.6,80.1 310.6,80.0 312.6,80.3 316.6,81.1 319.6,81.3 327.6,81.1 332.6,80.1 335.6,79.9 343.6,80.5 350.6,81.5 360.6,80.7 366.6,79.9 382.6,81.7 384.6,81.6 389.6,80.8 398.6,80.3 400.6,80.5 406.6,81.7 414.6,82.2 416.6,82.1 422.6,81.3 429.6,81.7 432.6,82.1 437.6,83.5 439.6,83.9 448.6,84.6 453.6,84.5 455.6,84.8 457.6,85.4 464.6,88.0 471.6,92.0 476.6,94.6 478.6,96.0 480.6,97.7 484.6,101.9 487.6,106.2 490.6,112.3 493.6,119.8 499.6,136.5 501.6,141.4 502.6,143.2 503.6,144.5 504.6,145.2 505.6,145.2 506.6,144.5 507.6,143.2 508.6,141.4 510.6,136.7 516.6,120.2 518.6,115.2 520.6,110.9 523.6,106.0 527.6,101.0 531.6,96.9 540.6,90.1 542.6,88.8 544.6,87.9 551.6,86.0 553.6,85.7 558.6,85.6 560.6,85.4 569.6,83.4 574.6,82.1 576.6,81.8 585.6,82.1 591.6,82.5 593.6,82.4 598.6,81.4 607.6,80.3 609.6,80.4 615.6,81.3 623.6,81.7 625.6,81.5 631.6,80.4 639.6,80.1 642.6,80.4 647.6,81.3 649.6,81.4 657.6,81.1 662.6,80.1 664.6,79.9 673.6,80.4 677.6,81.1"/>
<polyline stroke="#8bbf69" points="131.6,79.6 134.6,79.9 139.6,80.7 141.6,80.8 155.6,79.2 157.6,79.1 163.6,80.0 172.6,80.8 174.6,80.7 180.6,79.6 188.6,79.2 191.6,79.5 196.6,80.4 204.6,80.6 207.6,80.3 212.6,79.3 214.6,79.3 222.6,79.6 227.6,80.5 230.6,80.7 238.6,80.2 245.6,79.1 255.6,80.0 261.6,80.8 263.6,80.7 268.6,79.9 277.6,79.1 279.6,79.2 284.6,80.1 293.6,80.7 295.6,80.6 301.6,79.5 308.6,79.3 311.6,79.4 317.6,80.6 325.6,80.5 327.6,80.4 332.6,79.4 334.6,79.2 343.6,79.7 348.6,80.7 350.6,80.8 359.6,80.0 364.6,79.3 366.6,79.1 382.6,80.9 389.6,79.9 398.6,79.3 400.6,79.5 405.6,80.5 413.6,81.0 416.6,80.8 420.6,80.0 423.6,79.8 431.6,80.1 437.6,81.5 439.6,81.7 447.6,81.8 453.6,81.1 455.6,81.2 464.6,83.0 470.6,84.8 477.6,85.6 484.6,87.1 487.6,88.2 489.6,89.5 495.6,94.5 497.6,96.5 499.6,98.8 503.6,104.5 507.6,110.9 513.6,122.8 515.6,126.2 517.6,128.4 518.6,128.9 519.6,129.1 520.6,128.8 521.6,128.2 522.6,127.3 524.6,124.5 526.6,120.8 532.6,108.7 536.6,102.2 540.6,96.5 542.6,94.2 545.6,91.7 549.6,89.4 552.6,88.1 554.6,87.6 559.6,86.7 575.6,82.0 577.6,81.8 585.6,81.9 591.6,82.2 593.6,82.0 598.6,81.0 607.6,79.8 609.6,79.9 614.6,80.6 623.6,81.1 625.6,80.9 629.6,80.0 632.6,79.7 640.6,79.5 646.6,80.6 649.6,80.7 656.6,80.5 662.6,79.4 664.6,79.2 673.6,79.8 677.6,80.5"/>
<polyline stroke="#97c361" points="131.6,79.7 134.6,79.9 139.6,80.7 141.6,80.8 157.6,79.1 164.6,80.1 173.6,80.8 180.6,79.6 188.6,79.2 191.6,79.4 196.6,80.4 204.6,80.6 206.6,80.5 211.6,79.5 214.6,79.3 222.6,79.6 228.6,80.7 230.6,80.8 238.6,80.2 244.6,79.2 246.6,79.1 261.6,80.8 263.6,80.7 268.6,80.0 277.6,79.1 279.6,79.2 285.6,80.2 293.6,80.7 295.6,80.6 301.6,79.5 309.6,79.3 311.6,79.4 317.6,80.6 325.6,80.5 327.6,80.4 332.6,79.4 334.6,79.2 343.6,79.7 348.6,80.6 350.6,80.8 360.6,79.9 366.6,79.1 382.6,80.9 384.6,80.7 389.6,79.8 398.6,79.2 400.6,79.4 405.6,80.4 413.6,80.8 416.6,80.6 420.6,79.8 423.6,79.5 431.6,79.7 437.6,80.9 439.6,81.1 447.6,80.9 453.6,80.1 455.6,80.1 464.6,81.3 469.6,82.5 471.6,82.8 477.6,82.6 486.6,83.0 489.6,83.7 498.6,87.4 503.6,90.0 508.6,92.3 510.6,93.7 512.6,95.4 514.6,97.6 518.6,102.7 526.6,116.5 528.6,118.7 529.6,119.4 530.6,119.7 531.6,119.6 532.6,119.3 533.6,118.6 535.6,116.4 537.6,113.2 542.6,104.1 544.6,101.0 547.6,97.3 551.6,93.3 553.6,91.9 555.6,90.9 559.6,89.4 564.6,87.0 574.6,83.2 576.6,82.8 578.6,82.6 585.6,82.4 590.6,82.7 592.6,82.6 598.6,81.3 607.6,80.0 609.6,80.0 615.6,80.8 623.6,81.1 625.6,81.0 630.6,79.9 632.6,79.7 640.6,79.5 646.6,80.6 649.6,80.8 656.6,80.5 662.6,79.4 665.6,79.3 673.6,79.8 677.6,80.5"/>
<polyline stroke="#a3c858" points="131.6,79.7 134.6,80.0 139.6,80.8 141.6,80.9 155.6,79.3 157.6,79.2 163.6,80.1 172.6,80.9 174.6,80.8 180.6,79.7 187.6,79.3 190.6,79.4 196.6,80.5 204.6,80.7 207.6,80.4 212.6,79.4 214.6,79.3 222.6,79.7 227.6,80.6 230.6,80.8 238.6,80.3 245.6,79.2 255.6,80.1 261.6,80.9 263.6,80.8 268.6,80.0 277.6,79.2 279.6,79.3 284.6,80.2 293.6,80.8 295.6,80.7 301.6,79.6 308.6,79.4 311.6,79.5 317.6,80.6 325.6,80.6 327.6,80.4 332.6,79.4 334.6,79.3 343.6,79.8 348.6,80.7 350.6,80.9 359.6,80.1 364.6,79.3 366.6,79.2 382.6,80.9 389.6,79.9 398.6,79.3 400.6,79.5 405.6,80.4 413.6,80.8 415.6,80.8 420.6,79.8 423.6,79.5 431.6,79.7 437.6,80.8 439.6,81.0 447.6,80.7 453.6,79.7 455.6,79.7 464.6,80.6 469.6,81.7 471.6,81.8 486.6,81.1 489.6,81.6 502.6,85.0 510.6,86.0 513.6,87.0 517.6,88.8 520.6,90.8 522.6,92.7 528.6,99.7 535.6,108.4 537.6,110.0 538.6,110.5 539.6,110.6 541.6,110.2 542.6,109.7 544.6,108.1 546.6,106.1 551.6,99.9 553.6,97.7 555.6,95.9 562.6,90.7 565.6,88.8 572.6,85.2 574.6,84.3 576.6,83.8 585.6,83.0 591.6,83.1 598.6,81.6 607.6,80.2 609.6,80.3 614.6,81.0 623.6,81.3 625.6,81.1 630.6,80.0 632.6,79.8 640.6,79.6 646.6,80.7 649.6,80.8 656.6,80.6 662.6,79.5 664.6,79.3 673.6,79.9 677.6,80.6"/>
<polyline stroke="#b3cf51" points="131.6,79.6 133.6,79.8 138.6,80.7 140.6,80.8 149.6,79.9 154.6,79.1 156.6,79.1 161.6,79.8 171.6,80.8 173.6,80.7 178.6,79.8 187.6,79.1 189.6,79.2 195.6,80.3 203.6,80.6 205.6,80.5 211.6,79.4 219.6,79.3 221.6,79.5 226.6,80.5 228.6,80.7 237.6,80.2 242.6,79.3 244.6,79.1 253.6,79.8 258.6,80.6 260.6,80.8 276.6,79.1 283.6,80.0 292.6,80.8 294.6,80.6 299.6,79.6 307.6,79.2 310.6,79.4 316.6,80.5 323.6,80.6 326.6,80.4 331.6,79.4 333.6,79.2 341.6,79.5 347.6,80.6 349.6,80.7 358.6,80.1 363.6,79.2 365.6,79.1 381.6,80.8 387.6,80.0 396.6,79.1 398.6,79.2 404.6,80.2 412.6,80.7 414.6,80.6 419.6,79.7 422.6,79.4 429.6,79.3 431.6,79.6 435.6,80.4 438.6,80.7 446.6,80.5 451.6,79.6 454.6,79.3 462.6,79.9 468.6,81.1 470.6,81.2 479.6,80.6 485.6,80.0 487.6,80.2 501.6,82.8 509.6,82.6 515.6,83.2 518.6,83.8 520.6,84.7 529.6,89.5 539.6,96.7 545.6,101.7 547.6,102.6 548.6,102.8 549.6,102.8 551.6,102.3 554.6,100.8 557.6,98.5 563.6,92.8 570.6,87.5 573.6,85.7 575.6,84.9 577.6,84.5 583.6,83.6 590.6,83.4 596.6,82.0 606.6,80.3 608.6,80.3 613.6,80.9 622.6,81.3 624.6,81.1 629.6,80.0 637.6,79.4 640.6,79.6 646.6,80.6 653.6,80.7 656.6,80.5 661.6,79.4 663.6,79.3 671.6,79.6 677.6,80.6"/>
<polyline stroke="#c5d649" points="131.6,79.5 134.6,79.7 139.6,80.6 141.6,80.7 155.6,79.0 157.6,78.9 163.6,79.8 172.6,80.6 174.6,80.5 180.6,79.5 187.6,79.1 190.6,79.2 196.6,80.3 204.6,80.4 207.6,80.2 212.6,79.2 214.6,79.1 222.6,79.4 227.6,80.4 230.6,80.6 238.6,80.0 245.6,78.9 255.6,79.9 261.6,80.7 263.6,80.5 268.6,79.8 277.6,78.9 279.6,79.1 284.6,80.0 293.6,80.6 295.6,80.4 301.6,79.3 308.6,79.1 311.6,79.3 317.6,80.4 325.6,80.3 327.6,80.2 332.6,79.2 334.6,79.0 343.6,79.6 348.6,80.5 350.6,80.6 359.6,79.9 364.6,79.1 366.6,78.9 382.6,80.7 389.6,79.6 397.6,79.0 400.6,79.2 405.6,80.1 413.6,80.5 416.6,80.3 420.6,79.5 422.6,79.2 430.6,79.2 432.6,79.4 437.6,80.5 439.6,80.6 447.6,80.2 453.6,79.2 455.6,79.1 464.6,79.9 469.6,80.8 471.6,80.9 485.6,79.5 487.6,79.5 493.6,80.6 502.6,81.8 504.6,81.8 510.6,81.2 517.6,81.6 520.6,82.0 526.6,84.3 531.6,85.8 540.6,89.1 543.6,90.7 548.6,94.6 551.6,96.5 554.6,97.7 556.6,98.0 558.6,97.5 560.6,96.4 566.6,91.6 572.6,87.1 574.6,85.9 576.6,85.0 578.6,84.5 584.6,83.5 590.6,83.3 592.6,83.1 597.6,81.8 606.6,80.2 608.6,80.1 614.6,80.8 623.6,81.1 625.6,80.9 630.6,79.8 632.6,79.6 640.6,79.4 646.6,80.4 649.6,80.6 656.6,80.4 662.6,79.3 664.6,79.1 673.6,79.6 677.6,80.3"/>
<polyline stroke="#dede41" points="131.6,79.7 137.6,80.7 139.6,80.9 148.6,80.1 153.6,79.3 155.6,79.2 171.6,80.9 178.6,79.9 186.6,79.2 189.6,79.4 194.6,80.4 202.6,80.8 205.6,80.6 211.6,79.5 218.6,79.4 221.6,79.6 226.6,80.6 228.6,80.8 236.6,80.4 242.6,79.4 244.6,79.2 253.6,79.9 258.6,80.8 260.6,80.9 270.6,79.9 274.6,79.3 276.6,79.2 282.6,80.1 291.6,80.9 293.6,80.8 299.6,79.8 307.6,79.3 310.6,79.5 315.6,80.5 323.6,80.7 326.6,80.4 331.6,79.5 333.6,79.4 341.6,79.6 346.6,80.6 349.6,80.8 357.6,80.3 364.6,79.2 374.6,80.1 380.6,80.9 396.6,79.2 398.6,79.3 403.6,80.2 412.6,80.8 414.6,80.7 420.6,79.6 428.6,79.4 430.6,79.5 436.6,80.7 444.6,80.6 446.6,80.5 451.6,79.5 453.6,79.3 462.6,79.9 467.6,80.8 469.6,81.0 478.6,80.3 483.6,79.6 485.6,79.5 501.6,81.6 508.6,80.9 517.6,80.7 519.6,81.1 524.6,82.5 533.6,84.3 540.6,85.0 543.6,86.0 547.6,87.9 550.6,89.7 556.6,94.1 557.6,94.6 559.6,95.1 562.6,94.7 565.6,93.4 567.6,92.2 573.6,87.6 575.6,86.6 577.6,85.9 582.6,84.5 584.6,84.2 590.6,83.8 595.6,82.5 605.6,80.5 607.6,80.5 612.6,81.0 621.6,81.5 623.6,81.3 629.6,80.2 637.6,79.5 640.6,79.8 645.6,80.7 653.6,80.8 656.6,80.5 661.6,79.5 663.6,79.4 671.6,79.7 677.6,80.8"/>
<polyline stroke="#efe43c" points="131.6,79.2 134.6,79.5 138.6,80.2 140.6,80.4 156.6,78.7 163.6,79.6 172.6,80.4 174.6,80.2 179.6,79.3 187.6,78.8 190.6,78.9 196.6,80.0 203.6,80.2 206.6,80.0 211.6,79.0 214.6,78.9 221.6,79.1 227.6,80.2 229.6,80.3 238.6,79.7 243.6,78.8 245.6,78.7 254.6,79.5 259.6,80.3 261.6,80.4 276.6,78.7 278.6,78.7 284.6,79.7 292.6,80.3 295.6,80.1 300.6,79.2 308.6,78.8 311.6,79.0 315.6,79.9 317.6,80.1 325.6,80.1 327.6,79.9 332.6,78.9 334.6,78.8 342.6,79.2 348.6,80.3 350.6,80.3 359.6,79.6 364.6,78.7 366.6,78.7 381.6,80.4 383.6,80.3 388.6,79.5 397.6,78.7 399.6,78.8 405.6,79.9 413.6,80.3 415.6,80.2 420.6,79.2 422.6,79.0 430.6,78.9 436.6,80.1 439.6,80.3 447.6,79.9 452.6,79.0 454.6,78.8 463.6,79.4 470.6,80.5 486.6,78.9 488.6,79.1 493.6,79.9 502.6,80.9 504.6,80.8 509.6,80.1 518.6,80.0 520.6,80.3 526.6,81.9 534.6,83.1 540.6,83.4 542.6,83.6 545.6,84.7 550.6,86.9 552.6,88.1 556.6,91.0 558.6,92.2 559.6,92.5 561.6,92.8 563.6,92.6 566.6,91.7 569.6,90.0 574.6,86.6 577.6,85.3 584.6,83.6 591.6,83.1 597.6,81.6 606.6,79.9 608.6,79.8 613.6,80.5 622.6,80.9 625.6,80.6 630.6,79.5 637.6,79.1 640.6,79.1 645.6,80.1 648.6,80.3 656.6,80.1 661.6,79.1 664.6,78.8 672.6,79.2 677.6,80.1"/>
<polyline stroke="#f5e538" points="131.6,80.2 134.6,80.5 138.6,81.3 140.6,81.4 156.6,79.7 162.6,80.5 172.6,81.4 179.6,80.3 187.6,79.8 190.6,80.0 195.6,81.0 203.6,81.3 205.6,81.2 210.6,80.2 213.6,79.9 221.6,80.1 227.6,81.2 229.6,81.3 237.6,80.9 243.6,79.8 245.6,79.7 254.6,80.5 259.6,81.4 261.6,81.4 276.6,79.7 278.6,79.8 283.6,80.7 292.6,81.4 294.6,81.3 300.6,80.2 308.6,79.8 310.6,80.0 316.6,81.1 324.6,81.2 327.6,80.9 332.6,79.9 334.6,79.8 342.6,80.2 347.6,81.2 349.6,81.4 358.6,80.7 365.6,79.7 381.6,81.4 383.6,81.3 388.6,80.5 397.6,79.7 399.6,79.9 404.6,80.8 413.6,81.3 415.6,81.2 420.6,80.2 422.6,80.0 430.6,80.0 436.6,81.1 438.6,81.3 446.6,81.0 452.6,80.0 454.6,79.8 463.6,80.5 468.6,81.4 470.6,81.5 486.6,79.9 492.6,80.8 502.6,82.0 509.6,81.1 518.6,81.0 520.6,81.3 525.6,82.7 534.6,84.1 541.6,84.4 544.6,85.2 549.6,87.3 552.6,89.0 557.6,92.5 559.6,93.4 561.6,93.7 563.6,93.5 566.6,92.6 568.6,91.6 574.6,87.5 577.6,86.3 584.6,84.7 591.6,84.1 597.6,82.6 606.6,80.9 608.6,80.9 613.6,81.5 622.6,81.9 624.6,81.8 630.6,80.6 637.6,80.1 640.6,80.2 645.6,81.1 648.6,81.3 655.6,81.2 661.6,80.1 664.6,79.9 672.6,80.3 677.6,81.2"/>
<polyline stroke="#f5e538" points="131.6,79.0 134.6,79.3 139.6,80.1 141.6,80.2 155.6,78.5 157.6,78.5 163.6,79.4 172.6,80.2 174.6,80.1 180.6,79.0 187.6,78.6 190.6,78.7 196.6,79.8 204.6,80.0 207.6,79.7 211.6,78.8 214.6,78.6 222.6,79.0 227.6,79.9 229.6,80.1 238.6,79.5 245.6,78.5 255.6,79.4 261.6,80.2 263.6,80.1 268.6,79.3 277.6,78.5 279.6,78.6 284.6,79.5 293.6,80.1 295.6,80.0 301.6,78.9 308.6,78.7 311.6,78.8 317.6,79.9 325.6,79.9 328.6,79.6 332.6,78.7 334.6,78.6 343.6,79.1 348.6,80.0 350.6,80.2 359.6,79.4 364.6,78.6 366.6,78.5 382.6,80.2 389.6,79.2 397.6,78.5 400.6,78.7 405.6,79.7 413.6,80.1 416.6,79.8 420.6,79.0 422.6,78.8 430.6,78.8 432.6,79.0 437.6,80.0 439.6,80.1 447.6,79.7 453.6,78.7 455.6,78.6 464.6,79.3 469.6,80.2 471.6,80.3 485.6,78.8 487.6,78.7 493.6,79.7 502.6,80.7 504.6,80.6 510.6,79.8 518.6,79.8 520.6,80.0 527.6,81.8 535.6,82.9 542.6,83.2 545.6,84.2 550.6,86.4 552.6,87.5 556.6,90.3 558.6,91.5 559.6,91.9 561.6,92.2 564.6,91.9 567.6,90.8 569.6,89.6 574.6,86.2 577.6,84.9 584.6,83.4 592.6,82.7 597.6,81.3 606.6,79.7 608.6,79.6 614.6,80.3 623.6,80.6 625.6,80.4 630.6,79.3 632.6,79.1 640.6,78.9 646.6,80.0 649.6,80.1 656.6,79.9 662.6,78.8 664.6,78.6 673.6,79.1 677.6,79.9"/>
<polyline stroke="#f5e538" points="131.6,79.4 134.6,79.8 138.6,80.5 140.6,80.6 149.6,79.8 154.6,79.0 156.6,78.9 162.6,79.7 171.6,80.6 173.6,80.5 179.6,79.5 187.6,79.0 189.6,79.1 195.6,80.2 203.6,80.5 206.6,80.2 211.6,79.2 219.6,79.2 222.6,79.5 227.6,80.4 229.6,80.5 237.6,80.1 242.6,79.1 245.6,78.9 254.6,79.8 260.6,80.6 276.6,78.9 278.6,79.0 283.6,79.9 292.6,80.6 294.6,80.4 300.6,79.4 308.6,79.0 310.6,79.2 316.6,80.3 324.6,80.4 326.6,80.2 331.6,79.2 333.6,79.0 341.6,79.4 347.6,80.4 349.6,80.6 358.6,79.9 363.6,79.1 365.6,78.9 381.6,80.6 387.6,79.8 396.6,78.9 399.6,79.1 404.6,80.0 413.6,80.5 415.6,80.3 420.6,79.4 422.6,79.2 430.6,79.2 435.6,80.2 438.6,80.5 446.6,80.2 452.6,79.1 454.6,79.0 462.6,79.6 468.6,80.6 470.6,80.7 479.6,79.9 484.6,79.2 486.6,79.1 501.6,81.1 503.6,81.1 509.6,80.3 518.6,80.1 525.6,81.8 533.6,83.0 535.6,83.2 541.6,83.4 544.6,84.2 549.6,86.1 552.6,87.8 557.6,91.2 559.6,92.0 561.6,92.3 564.6,92.1 566.6,91.5 568.6,90.5 574.6,86.5 578.6,85.1 584.6,83.7 589.6,83.5 591.6,83.2 596.6,81.9 606.6,80.1 608.6,80.1 613.6,80.7 622.6,81.1 624.6,80.9 629.6,79.9 637.6,79.3 640.6,79.4 646.6,80.4 653.6,80.5 656.6,80.3 661.6,79.3 663.6,79.1 671.6,79.4 677.6,80.4"/>
<polyline stroke="#f5e538" points="131.6,79.5 140.6,80.7 156.6,79.0 162.6,79.8 172.6,80.7 174.6,80.5 179.6,79.6 187.6,79.1 190.6,79.3 196.6,80.3 203.6,80.5 206.6,80.3 211.6,79.3 214.6,79.2 221.6,79.4 227.6,80.5 229.6,80.6 237.6,80.1 243.6,79.1 245.6,79.0 254.6,79.8 259.6,80.6 261.6,80.7 276.6,79.0 278.6,79.1 284.6,80.0 292.6,80.6 294.6,80.6 300.6,79.5 308.6,79.1 310.6,79.2 315.6,80.2 317.6,80.4 325.6,80.4 327.6,80.2 331.6,79.3 334.6,79.1 342.6,79.5 348.6,80.6 350.6,80.7 359.6,79.9 365.6,79.0 367.6,79.1 381.6,80.7 383.6,80.6 388.6,79.8 397.6,79.0 399.6,79.2 405.6,80.2 413.6,80.6 415.6,80.5 420.6,79.5 422.6,79.3 430.6,79.3 436.6,80.4 439.6,80.6 447.6,80.2 452.6,79.3 454.6,79.1 463.6,79.7 468.6,80.6 470.6,80.8 486.6,79.2 492.6,80.1 502.6,81.2 504.6,81.1 509.6,80.3 518.6,80.2 520.6,80.5 525.6,81.9 534.6,83.2 540.6,83.3 542.6,83.5 545.6,84.4 550.6,86.5 552.6,87.6 556.6,90.4 558.6,91.5 559.6,91.9 561.6,92.2 564.6,91.9 567.6,90.9 574.6,86.5 577.6,85.3 584.6,83.8 591.6,83.3 597.6,81.8 606.6,80.2 608.6,80.1 613.6,80.7 622.6,81.2 624.6,81.0 630.6,79.8 637.6,79.4 640.6,79.4 645.6,80.4 648.6,80.6 656.6,80.4 661.6,79.4 664.6,79.2 672.6,79.6 677.6,80.5"/>
<polyline stroke="#f5e538" points="131.6,79.0 134.6,79.2 139.6,80.1 141.6,80.1 155.6,78.5 157.6,78.4 163.6,79.3 172.6,80.1 174.6,80.0 179.6,79.1 187.6,78.6 190.6,78.7 196.6,79.8 204.6,80.0 207.6,79.7 211.6,78.8 214.6,78.6 222.6,78.9 227.6,79.9 229.6,80.1 238.6,79.5 243.6,78.6 245.6,78.4 255.6,79.4 261.6,80.2 267.6,79.4 277.6,78.4 279.6,78.6 284.6,79.5 293.6,80.1 295.6,79.9 300.6,78.9 308.6,78.6 311.6,78.8 317.6,79.9 325.6,79.9 327.6,79.7 332.6,78.7 334.6,78.5 342.6,79.0 348.6,80.0 350.6,80.1 359.6,79.4 364.6,78.5 366.6,78.4 380.6,80.1 382.6,80.2 388.6,79.2 397.6,78.5 399.6,78.6 405.6,79.6 413.6,80.0 415.6,79.9 420.6,78.9 422.6,78.7 430.6,78.7 432.6,78.9 437.6,79.9 439.6,80.0 447.6,79.7 453.6,78.6 455.6,78.5 464.6,79.3 470.6,80.2 480.6,79.4 485.6,78.7 487.6,78.7 493.6,79.6 502.6,80.6 504.6,80.6 510.6,79.7 518.6,79.6 520.6,79.9 525.6,81.2 527.6,81.6 535.6,82.6 540.6,82.7 542.6,82.9 545.6,83.7 549.6,85.3 552.6,86.9 556.6,89.6 558.6,90.7 559.6,91.1 561.6,91.4 564.6,91.2 567.6,90.2 569.6,89.1 574.6,85.9 577.6,84.7 584.6,83.2 591.6,82.7 597.6,81.2 606.6,79.6 608.6,79.5 614.6,80.3 623.6,80.6 625.6,80.3 630.6,79.3 632.6,79.1 640.6,78.9 646.6,79.9 649.6,80.1 656.6,79.9 662.6,78.7 664.6,78.6 672.6,79.0 677.6,79.9"/>
<polyline stroke="#f5e538" points="131.6,80.9 134.6,81.2 138.6,81.9 140.6,82.1 156.6,80.4 158.6,80.5 163.6,81.3 172.6,82.1 174.6,81.9 179.6,81.0 187.6,80.5 190.6,80.6 196.6,81.7 203.6,81.9 206.6,81.7 211.6,80.7 214.6,80.6 221.6,80.8 227.6,81.9 229.6,82.0 238.6,81.4 243.6,80.5 245.6,80.4 254.6,81.2 259.6,82.0 261.6,82.1 276.6,80.4 278.6,80.4 284.6,81.4 292.6,82.0 295.6,81.8 300.6,80.9 308.6,80.5 311.6,80.7 315.6,81.6 317.6,81.8 325.6,81.8 327.6,81.6 332.6,80.6 334.6,80.5 342.6,80.9 348.6,82.0 350.6,82.0 359.6,81.3 364.6,80.4 366.6,80.4 381.6,82.1 383.6,82.0 388.6,81.2 397.6,80.4 399.6,80.5 405.6,81.6 413.6,82.0 415.6,81.9 420.6,80.9 422.6,80.7 430.6,80.6 436.6,81.8 439.6,82.0 447.6,81.6 452.6,80.7 454.6,80.5 463.6,81.1 470.6,82.2 486.6,80.6 488.6,80.7 493.6,81.6 502.6,82.5 504.6,82.4 509.6,81.7 518.6,81.5 520.6,81.8 526.6,83.3 534.6,84.4 540.6,84.5 542.6,84.7 545.6,85.5 550.6,87.5 552.6,88.6 556.6,91.3 558.6,92.4 560.6,93.0 562.6,93.1 565.6,92.6 567.6,91.9 569.6,90.9 574.6,87.7 577.6,86.5 584.6,85.0 591.6,84.6 597.6,83.1 606.6,81.5 608.6,81.5 613.6,82.1 622.6,82.5 625.6,82.2 630.6,81.2 637.6,80.8 640.6,80.8 645.6,81.7 648.6,82.0 656.6,81.8 661.6,80.8 664.6,80.5 672.6,80.9 677.6,81.8"/>
<polyline stroke="#f5e538" points="131.6,79.3 137.6,80.3 139.6,80.5 148.6,79.7 153.6,78.9 155.6,78.8 169.6,80.4 171.6,80.5 177.6,79.6 186.6,78.8 188.6,78.9 194.6,80.0 202.6,80.4 204.6,80.3 210.6,79.2 218.6,79.0 221.6,79.3 226.6,80.3 228.6,80.3 236.6,80.0 241.6,79.1 244.6,78.9 252.6,79.4 259.6,80.5 269.6,79.6 275.6,78.8 277.6,78.9 282.6,79.7 291.6,80.5 293.6,80.3 298.6,79.4 306.6,78.9 309.6,79.0 315.6,80.1 323.6,80.3 325.6,80.2 330.6,79.1 333.6,79.0 340.6,79.1 346.6,80.2 348.6,80.4 357.6,79.9 362.6,79.0 364.6,78.8 373.6,79.6 378.6,80.4 380.6,80.5 396.6,78.8 403.6,79.8 412.6,80.5 414.6,80.3 419.6,79.3 427.6,78.9 430.6,79.1 436.6,80.2 444.6,80.2 446.6,80.1 451.6,79.1 453.6,78.9 461.6,79.3 467.6,80.4 469.6,80.5 478.6,79.8 483.6,79.0 485.6,79.0 495.6,80.2 499.6,80.8 501.6,80.9 507.6,80.2 516.6,79.8 518.6,80.0 524.6,81.4 532.6,82.6 534.6,82.7 539.6,82.6 542.6,83.0 546.6,84.2 549.6,85.2 557.6,90.1 559.6,90.8 562.6,91.2 564.6,91.1 566.6,90.5 568.6,89.5 573.6,86.5 575.6,85.6 580.6,84.2 583.6,83.6 589.6,83.3 595.6,81.9 605.6,79.9 607.6,79.9 611.6,80.4 621.6,81.0 623.6,80.8 628.6,79.8 636.6,79.1 639.6,79.2 645.6,80.2 653.6,80.4 655.6,80.2 660.6,79.2 663.6,79.0 670.6,79.2 677.6,80.4"/>
<polyline stroke="#f5e538" points="131.6,79.2 139.6,80.4 149.6,79.6 155.6,78.7 157.6,78.8 161.6,79.4 171.6,80.4 173.6,80.3 178.6,79.5 187.6,78.8 189.6,78.9 195.6,80.0 203.6,80.3 205.6,80.2 210.6,79.1 213.6,78.9 220.6,79.0 226.6,80.1 229.6,80.3 237.6,79.9 242.6,78.9 244.6,78.8 253.6,79.5 260.6,80.4 276.6,78.7 278.6,78.9 283.6,79.7 292.6,80.4 294.6,80.2 299.6,79.3 308.6,78.8 310.6,79.0 315.6,80.0 317.6,80.2 325.6,80.1 331.6,79.0 333.6,78.9 341.6,79.2 347.6,80.2 349.6,80.4 358.6,79.7 363.6,78.8 365.6,78.7 381.6,80.4 387.6,79.6 396.6,78.7 398.6,78.8 404.6,79.8 412.6,80.4 415.6,80.1 420.6,79.2 428.6,78.9 430.6,79.0 435.6,80.0 438.6,80.3 446.6,80.0 451.6,79.1 454.6,78.8 462.6,79.4 468.6,80.4 470.6,80.5 479.6,79.7 484.6,79.0 486.6,78.9 501.6,80.9 503.6,80.8 508.6,80.1 517.6,79.7 519.6,80.0 525.6,81.4 533.6,82.5 535.6,82.7 540.6,82.5 543.6,83.0 547.6,84.3 550.6,85.5 556.6,89.2 558.6,90.2 560.6,90.7 562.6,90.9 565.6,90.6 567.6,89.9 573.6,86.3 575.6,85.4 577.6,84.8 583.6,83.4 590.6,83.0 596.6,81.6 606.6,79.8 608.6,79.9 613.6,80.4 622.6,80.9 624.6,80.7 629.6,79.6 637.6,79.1 640.6,79.2 646.6,80.2 653.6,80.3 656.6,80.1 661.6,79.1 663.6,78.9 671.6,79.2 677.6,80.3"/>
<polyline stroke="#f5e538" points="131.6,80.6 137.6,81.7 139.6,81.8 148.6,81.1 153.6,80.2 155.6,80.1 169.6,81.8 171.6,81.8 177.6,80.9 186.6,80.2 188.6,80.2 194.6,81.3 202.6,81.7 204.6,81.6 210.6,80.5 218.6,80.3 221.6,80.6 226.6,81.6 228.6,81.7 236.6,81.4 241.6,80.4 244.6,80.2 252.6,80.8 259.6,81.8 269.6,80.9 275.6,80.1 277.6,80.2 282.6,81.0 291.6,81.8 293.6,81.7 298.6,80.8 306.6,80.2 309.6,80.3 315.6,81.4 323.6,81.7 325.6,81.5 330.6,80.5 333.6,80.3 340.6,80.5 346.6,81.6 348.6,81.7 357.6,81.2 362.6,80.3 364.6,80.1 373.6,80.9 378.6,81.7 380.6,81.9 396.6,80.1 403.6,81.1 412.6,81.8 414.6,81.6 419.6,80.6 427.6,80.3 430.6,80.5 436.6,81.6 444.6,81.6 446.6,81.4 451.6,80.4 453.6,80.3 461.6,80.7 467.6,81.8 469.6,81.9 478.6,81.2 483.6,80.4 485.6,80.3 495.6,81.5 499.6,82.1 501.6,82.2 507.6,81.5 516.6,81.0 518.6,81.2 524.6,82.6 532.6,83.8 534.6,83.9 539.6,83.7 542.6,84.1 547.6,85.5 549.6,86.2 551.6,87.3 556.6,90.4 558.6,91.3 560.6,91.8 563.6,92.0 566.6,91.5 568.6,90.5 573.6,87.5 575.6,86.8 580.6,85.3 583.6,84.8 589.6,84.5 595.6,83.1 605.6,81.2 607.6,81.2 611.6,81.7 621.6,82.3 623.6,82.1 628.6,81.1 636.6,80.4 639.6,80.5 645.6,81.6 653.6,81.7 655.6,81.6 660.6,80.5 663.6,80.4 670.6,80.5 677.6,81.7"/>
<polyline stroke="#f5e538" points="131.6,79.6 134.6,79.9 139.6,80.7 141.6,80.8 155.6,79.1 157.6,79.1 163.6,80.0 172.6,80.8 174.6,80.7 180.6,79.6 187.6,79.2 190.6,79.3 196.6,80.4 204.6,80.6 207.6,80.3 211.6,79.4 214.6,79.2 222.6,79.6 227.6,80.5 229.6,80.7 238.6,80.1 245.6,79.1 255.6,80.0 261.6,80.8 263.6,80.7 268.6,79.9 277.6,79.1 279.6,79.2 284.6,80.1 293.6,80.7 295.6,80.6 301.6,79.5 308.6,79.2 311.6,79.4 317.6,80.5 325.6,80.5 328.6,80.1 332.6,79.3 334.6,79.2 343.6,79.7 348.6,80.6 350.6,80.8 359.6,80.0 364.6,79.2 366.6,79.1 382.6,80.8 389.6,79.8 397.6,79.1 400.6,79.3 405.6,80.3 413.6,80.7 416.6,80.4 420.6,79.6 422.6,79.4 430.6,79.4 432.6,79.6 437.6,80.6 439.6,80.7 447.6,80.3 453.6,79.2 455.6,79.2 464.6,79.9 469.6,80.8 471.6,80.9 485.6,79.3 487.6,79.3 493.6,80.2 502.6,81.2 504.6,81.1 510.6,80.3 518.6,80.1 520.6,80.4 525.6,81.7 527.6,82.0 535.6,82.9 542.6,82.9 545.6,83.7 551.6,85.9 558.6,90.0 560.6,90.7 562.6,90.8 565.6,90.4 567.6,89.9 569.6,88.9 574.6,85.9 577.6,84.8 584.6,83.5 591.6,83.2 597.6,81.7 606.6,80.2 608.6,80.1 614.6,80.8 623.6,81.2 625.6,81.0 630.6,79.9 632.6,79.7 640.6,79.5 646.6,80.6 649.6,80.7 656.6,80.5 662.6,79.4 664.6,79.2 673.6,79.7 677.6,80.5"/>
<polyline stroke="#f5e538" points="131.6,80.9 134.6,81.3 138.6,82.0 140.6,82.1 149.6,81.3 154.6,80.5 156.6,80.4 162.6,81.2 171.6,82.1 173.6,82.0 179.6,81.0 187.6,80.5 189.6,80.6 195.6,81.7 203.6,82.0 206.6,81.7 211.6,80.7 219.6,80.7 222.6,81.0 227.6,81.9 229.6,82.0 237.6,81.6 242.6,80.6 244.6,80.4 253.6,81.1 260.6,82.1 276.6,80.4 278.6,80.5 283.6,81.4 292.6,82.1 294.6,81.9 300.6,80.9 308.6,80.5 310.6,80.7 316.6,81.8 324.6,81.9 326.6,81.7 331.6,80.7 333.6,80.6 341.6,80.9 347.6,81.9 349.6,82.1 358.6,81.4 363.6,80.5 365.6,80.4 381.6,82.1 387.6,81.3 396.6,80.4 399.6,80.6 404.6,81.5 413.6,82.0 415.6,81.8 419.6,81.0 422.6,80.7 430.6,80.7 435.6,81.7 438.6,82.0 446.6,81.7 452.6,80.6 454.6,80.5 462.6,81.0 468.6,82.1 470.6,82.2 479.6,81.4 485.6,80.6 487.6,80.7 492.6,81.5 502.6,82.5 508.6,81.7 517.6,81.4 519.6,81.6 525.6,83.0 533.6,84.0 535.6,84.2 540.6,84.0 543.6,84.4 550.6,86.6 552.6,87.6 556.6,90.2 558.6,91.1 560.6,91.7 562.6,91.8 565.6,91.6 567.6,91.0 569.6,90.0 573.6,87.6 575.6,86.7 577.6,86.2 583.6,84.9 589.6,84.7 591.6,84.4 596.6,83.2 606.6,81.4 608.6,81.5 613.6,82.1 622.6,82.5 624.6,82.3 629.6,81.3 637.6,80.7 640.6,80.9 646.6,81.9 653.6,82.0 656.6,81.8 661.6,80.8 663.6,80.6 671.6,80.9 677.6,81.9"/>
<polyline stroke="#f5e538" points="131.6,78.7 134.6,78.9 139.6,79.8 141.6,79.8 150.6,78.9 155.6,78.2 157.6,78.1 163.6,79.0 172.6,79.8 174.6,79.7 179.6,78.8 187.6,78.2 190.6,78.4 196.6,79.5 203.6,79.6 206.6,79.5 211.6,78.5 214.6,78.3 221.6,78.5 227.6,79.6 229.6,79.8 238.6,79.2 243.6,78.3 245.6,78.1 254.6,79.0 259.6,79.7 261.6,79.9 276.6,78.1 278.6,78.2 284.6,79.2 293.6,79.8 295.6,79.6 300.6,78.6 308.6,78.3 311.6,78.5 315.6,79.3 317.6,79.6 325.6,79.5 327.6,79.3 332.6,78.3 334.6,78.2 342.6,78.7 348.6,79.7 350.6,79.8 359.6,79.0 364.6,78.2 366.6,78.1 381.6,79.8 383.6,79.8 388.6,78.9 397.6,78.2 399.6,78.3 405.6,79.3 413.6,79.7 415.6,79.6 420.6,78.6 422.6,78.4 430.6,78.4 432.6,78.6 436.6,79.5 439.6,79.7 447.6,79.4 452.6,78.4 454.6,78.2 463.6,78.9 470.6,79.9 486.6,78.3 488.6,78.4 493.6,79.3 502.6,80.2 504.6,80.1 509.6,79.3 518.6,79.1 520.6,79.4 526.6,80.8 534.6,81.8 542.6,81.8 545.6,82.5 550.6,84.2 552.6,85.1 558.6,88.6 560.6,89.2 562.6,89.4 565.6,89.1 567.6,88.5 569.6,87.6 574.6,84.7 577.6,83.7 584.6,82.4 591.6,82.1 597.6,80.7 606.6,79.2 608.6,79.1 614.6,79.8 622.6,80.2 625.6,80.0 630.6,78.9 637.6,78.5 640.6,78.5 645.6,79.5 648.6,79.7 656.6,79.5 662.6,78.4 664.6,78.3 672.6,78.7 677.6,79.6"/>
<polyline stroke="#f5e538" points="131.6,79.5 134.6,79.8 139.6,80.6 141.6,80.7 150.6,79.7 155.6,79.0 157.6,79.0 163.6,79.9 172.6,80.7 174.6,80.5 179.6,79.6 187.6,79.1 190.6,79.2 196.6,80.3 204.6,80.5 206.6,80.3 211.6,79.3 214.6,79.2 221.6,79.4 227.6,80.4 229.6,80.6 238.6,80.0 243.6,79.1 245.6,79.0 254.6,79.8 261.6,80.7 267.6,79.9 277.6,79.0 279.6,79.2 284.6,80.0 293.6,80.6 295.6,80.4 300.6,79.5 308.6,79.1 311.6,79.3 317.6,80.4 325.6,80.4 327.6,80.2 332.6,79.2 334.6,79.1 342.6,79.5 348.6,80.5 350.6,80.7 359.6,79.9 364.6,79.1 366.6,79.0 380.6,80.6 382.6,80.7 388.6,79.8 397.6,79.0 399.6,79.1 405.6,80.2 413.6,80.6 415.6,80.5 420.6,79.5 422.6,79.3 430.6,79.3 432.6,79.5 436.6,80.3 439.6,80.6 447.6,80.2 452.6,79.3 455.6,79.1 463.6,79.7 470.6,80.8 486.6,79.1 488.6,79.3 493.6,80.1 502.6,81.1 504.6,81.0 510.6,80.1 518.6,79.9 520.6,80.2 526.6,81.6 534.6,82.5 542.6,82.5 545.6,83.2 551.6,85.3 558.6,89.2 560.6,89.8 562.6,90.0 565.6,89.7 567.6,89.2 569.6,88.3 574.6,85.5 577.6,84.4 584.6,83.2 591.6,82.9 597.6,81.5 606.6,80.0 609.6,80.0 614.6,80.7 623.6,81.0 625.6,80.8 629.6,79.9 632.6,79.6 640.6,79.4 646.6,80.5 649.6,80.6 656.6,80.4 662.6,79.3 664.6,79.1 672.6,79.5 677.6,80.4"/>
<polyline stroke="#f5e538" points="131.6,81.3 137.6,82.3 139.6,82.5 148.6,81.7 153.6,80.9 155.6,80.8 171.6,82.5 178.6,81.5 186.6,80.8 189.6,81.0 194.6,81.9 202.6,82.4 205.6,82.2 211.6,81.1 218.6,81.0 221.6,81.2 226.6,82.2 228.6,82.4 236.6,82.0 242.6,80.9 244.6,80.8 253.6,81.5 258.6,82.4 260.6,82.5 270.6,81.5 274.6,80.9 276.6,80.8 282.6,81.6 291.6,82.5 293.6,82.4 299.6,81.3 307.6,80.9 310.6,81.1 315.6,82.1 323.6,82.3 326.6,82.0 331.6,81.0 333.6,80.9 341.6,81.2 346.6,82.2 349.6,82.4 357.6,81.9 364.6,80.8 374.6,81.7 380.6,82.5 396.6,80.8 398.6,80.9 403.6,81.8 412.6,82.4 414.6,82.3 420.6,81.2 428.6,80.9 430.6,81.1 436.6,82.2 444.6,82.2 446.6,82.1 451.6,81.1 453.6,80.9 462.6,81.4 467.6,82.4 469.6,82.5 478.6,81.8 483.6,81.0 485.6,80.9 501.6,82.8 508.6,82.0 516.6,81.6 519.6,81.9 524.6,83.1 532.6,84.1 535.6,84.3 540.6,84.0 543.6,84.4 548.6,85.7 550.6,86.5 556.6,89.9 558.6,90.7 560.6,91.2 563.6,91.5 565.6,91.3 567.6,90.7 573.6,87.5 577.6,86.3 583.6,85.1 590.6,84.8 595.6,83.6 605.6,81.8 607.6,81.8 612.6,82.4 621.6,82.9 623.6,82.8 629.6,81.6 637.6,81.1 640.6,81.3 645.6,82.2 653.6,82.4 656.6,82.1 661.6,81.1 663.6,81.0 671.6,81.3 677.6,82.4"/>
<polyline stroke="#f5e538" points="131.6,80.4 140.6,81.6 156.6,79.9 162.6,80.7 172.6,81.6 174.6,81.4 179.6,80.5 187.6,80.0 190.6,80.1 196.6,81.2 203.6,81.4 206.6,81.2 211.6,80.2 214.6,80.1 221.6,80.3 227.6,81.4 229.6,81.5 237.6,81.0 243.6,80.0 245.6,79.9 254.6,80.7 259.6,81.5 261.6,81.6 276.6,79.9 278.6,80.0 284.6,80.9 292.6,81.5 294.6,81.5 300.6,80.4 308.6,80.0 310.6,80.1 315.6,81.1 317.6,81.3 325.6,81.3 327.6,81.1 331.6,80.2 334.6,80.0 342.6,80.4 348.6,81.5 350.6,81.6 359.6,80.8 365.6,79.9 367.6,80.0 381.6,81.6 383.6,81.5 388.6,80.7 397.6,79.9 399.6,80.0 405.6,81.1 413.6,81.5 415.6,81.4 420.6,80.4 422.6,80.2 430.6,80.2 436.6,81.3 439.6,81.4 447.6,81.1 452.6,80.1 454.6,80.0 463.6,80.6 468.6,81.5 470.6,81.7 486.6,80.0 492.6,80.9 502.6,81.9 504.6,81.8 509.6,81.0 518.6,80.8 520.6,81.1 525.6,82.3 533.6,83.2 535.6,83.4 540.6,83.1 542.6,83.2 545.6,83.9 550.6,85.4 552.6,86.3 558.6,89.6 560.6,90.2 562.6,90.3 565.6,90.1 567.6,89.7 569.6,88.8 574.6,86.1 577.6,85.2 584.6,84.0 591.6,83.7 597.6,82.3 606.6,80.8 608.6,80.8 614.6,81.6 622.6,82.0 624.6,81.8 630.6,80.6 637.6,80.2 640.6,80.3 645.6,81.2 648.6,81.5 656.6,81.3 661.6,80.3 664.6,80.0 672.6,80.4 677.6,81.4"/>
<polyline stroke="#f5e538" points="131.6,79.3 133.6,79.5 138.6,80.4 140.6,80.5 149.6,79.7 154.6,78.9 156.6,78.8 161.6,79.5 171.6,80.5 173.6,80.4 178.6,79.6 187.6,78.9 189.6,79.0 195.6,80.1 203.6,80.4 205.6,80.3 211.6,79.1 219.6,79.1 221.6,79.2 226.6,80.2 228.6,80.4 237.6,80.0 242.6,79.0 244.6,78.9 253.6,79.6 260.6,80.6 276.6,78.8 283.6,79.8 292.6,80.5 294.6,80.3 299.6,79.4 307.6,79.0 310.6,79.1 316.6,80.2 323.6,80.3 326.6,80.1 331.6,79.1 333.6,79.0 341.6,79.3 347.6,80.4 349.6,80.5 358.6,79.8 363.6,78.9 365.6,78.8 381.6,80.6 387.6,79.7 396.6,78.9 398.6,78.9 404.6,79.9 412.6,80.5 414.6,80.4 419.6,79.4 421.6,79.2 429.6,79.0 431.6,79.3 435.6,80.1 438.6,80.4 446.6,80.1 451.6,79.2 454.6,78.9 462.6,79.5 468.6,80.5 470.6,80.6 479.6,79.8 485.6,79.0 487.6,79.1 491.6,79.7 501.6,80.9 503.6,80.8 508.6,80.0 517.6,79.6 519.6,79.8 525.6,81.2 533.6,82.2 535.6,82.2 540.6,81.9 543.6,82.3 550.6,84.2 552.6,85.1 556.6,87.4 558.6,88.3 560.6,88.8 563.6,89.0 565.6,88.9 567.6,88.4 573.6,85.3 575.6,84.6 577.6,84.1 583.6,83.0 590.6,82.8 596.6,81.4 606.6,79.7 608.6,79.8 613.6,80.4 622.6,80.9 624.6,80.7 629.6,79.7 637.6,79.1 640.6,79.3 646.6,80.3 653.6,80.4 656.6,80.2 661.6,79.2 663.6,79.0 671.6,79.3 677.6,80.4"/>
<polyline stroke="#f5e538" points="131.6,81.5 138.6,82.6 140.6,82.7 149.6,81.8 154.6,81.0 156.6,81.0 161.6,81.7 171.6,82.7 173.6,82.6 178.6,81.7 187.6,81.0 189.6,81.1 195.6,82.2 203.6,82.5 205.6,82.4 211.6,81.3 219.6,81.2 221.6,81.4 226.6,82.4 228.6,82.6 237.6,82.1 242.6,81.2 244.6,81.0 253.6,81.7 258.6,82.5 260.6,82.7 276.6,81.0 283.6,81.9 292.6,82.6 294.6,82.5 299.6,81.5 307.6,81.1 310.6,81.3 316.6,82.4 323.6,82.5 326.6,82.3 331.6,81.3 333.6,81.1 341.6,81.4 347.6,82.5 349.6,82.6 358.6,82.0 363.6,81.1 365.6,81.0 375.6,82.0 379.6,82.6 381.6,82.7 387.6,81.8 396.6,81.0 398.6,81.1 404.6,82.1 412.6,82.6 414.6,82.5 419.6,81.5 421.6,81.3 429.6,81.2 431.6,81.4 435.6,82.3 438.6,82.5 446.6,82.3 451.6,81.3 454.6,81.1 462.6,81.6 468.6,82.6 470.6,82.7 479.6,81.9 485.6,81.1 487.6,81.2 491.6,81.9 501.6,83.0 503.6,82.9 508.6,82.2 517.6,81.7 519.6,82.0 525.6,83.3 533.6,84.2 535.6,84.3 540.6,83.9 543.6,84.3 550.6,86.1 552.6,87.1 556.6,89.3 558.6,90.2 560.6,90.7 563.6,90.9 565.6,90.8 567.6,90.3 573.6,87.3 575.6,86.6 577.6,86.1 583.6,85.0 590.6,84.9 596.6,83.5 606.6,81.9 608.6,81.9 613.6,82.6 622.6,83.0 624.6,82.8 629.6,81.8 637.6,81.3 640.6,81.4 646.6,82.5 653.6,82.5 656.6,82.3 661.6,81.3 663.6,81.2 671.6,81.4 677.6,82.5"/>
<polyline stroke="#f5e538" points="131.6,79.1 133.6,79.3 138.6,80.2 140.6,80.3 149.6,79.5 154.6,78.7 156.6,78.6 162.6,79.4 171.6,80.3 173.6,80.2 179.6,79.3 187.6,78.7 189.6,78.8 195.6,79.9 203.6,80.2 206.6,79.9 211.6,78.9 219.6,78.9 222.6,79.2 227.6,80.2 229.6,80.2 237.6,79.8 242.6,78.8 244.6,78.7 253.6,79.4 260.6,80.3 276.6,78.6 278.6,78.8 283.6,79.6 292.6,80.3 294.6,80.1 300.6,79.1 308.6,78.7 310.6,78.9 316.6,80.0 324.6,80.1 326.6,79.9 331.6,78.9 333.6,78.8 341.6,79.1 347.6,80.1 349.6,80.3 358.6,79.6 363.6,78.8 365.6,78.6 381.6,80.4 387.6,79.5 396.6,78.7 399.6,78.8 404.6,79.7 412.6,80.2 415.6,80.0 420.6,79.1 428.6,78.8 431.6,79.0 435.6,79.9 437.6,80.1 445.6,80.0 447.6,79.8 452.6,78.8 454.6,78.7 462.6,79.3 468.6,80.3 470.6,80.4 479.6,79.6 485.6,78.7 487.6,78.8 491.6,79.5 500.6,80.6 502.6,80.6 508.6,79.8 517.6,79.4 519.6,79.6 525.6,80.9 533.6,81.8 535.6,81.9 540.6,81.5 543.6,81.8 550.6,83.6 558.6,87.6 560.6,88.1 563.6,88.3 565.6,88.2 567.6,87.8 569.6,87.0 573.6,84.9 575.6,84.1 577.6,83.7 583.6,82.6 590.6,82.5 596.6,81.2 606.6,79.5 608.6,79.6 613.6,80.2 622.6,80.7 624.6,80.5 629.6,79.5 637.6,78.9 640.6,79.0 646.6,80.1 653.6,80.2 656.6,80.0 661.6,79.0 664.6,78.8 672.6,79.2 677.6,80.2"/>
<polyline stroke="#f5e538" points="131.6,80.1 140.6,81.3 156.6,79.6 162.6,80.4 172.6,81.3 174.6,81.1 179.6,80.2 187.6,79.7 190.6,79.8 196.6,80.9 203.6,81.1 206.6,80.9 211.6,79.9 214.6,79.8 221.6,80.0 227.6,81.1 229.6,81.2 237.6,80.7 243.6,79.7 245.6,79.6 254.6,80.4 259.6,81.2 261.6,81.3 276.6,79.6 278.6,79.7 284.6,80.6 292.6,81.2 294.6,81.1 300.6,80.1 308.6,79.7 310.6,79.8 315.6,80.8 317.6,81.0 325.6,81.0 327.6,80.8 332.6,79.8 334.6,79.7 342.6,80.1 348.6,81.2 350.6,81.2 359.6,80.5 365.6,79.6 367.6,79.7 381.6,81.3 383.6,81.2 388.6,80.4 397.6,79.6 399.6,79.7 405.6,80.8 413.6,81.2 415.6,81.0 420.6,80.0 422.6,79.9 430.6,79.8 436.6,81.0 439.6,81.1 447.6,80.8 452.6,79.8 454.6,79.7 463.6,80.3 468.6,81.2 470.6,81.3 486.6,79.7 501.6,81.5 504.6,81.5 509.6,80.7 517.6,80.3 520.6,80.6 526.6,82.0 534.6,82.8 536.6,82.8 540.6,82.5 542.6,82.5 545.6,83.1 550.6,84.4 552.6,85.2 557.6,87.9 559.6,88.6 561.6,89.0 563.6,89.0 566.6,88.8 568.6,88.2 574.6,85.3 577.6,84.4 584.6,83.4 591.6,83.2 597.6,81.9 606.6,80.4 608.6,80.4 614.6,81.2 622.6,81.6 624.6,81.5 630.6,80.3 637.6,79.9 640.6,80.0 645.6,80.9 648.6,81.1 656.6,81.0 661.6,80.0 664.6,79.7 672.6,80.1 677.6,81.0"/>
<polyline stroke="#f5e538" points="131.6,79.8 134.6,80.0 139.6,80.9 141.6,80.9 155.6,79.3 157.6,79.2 163.6,80.1 172.6,80.9 174.6,80.8 180.6,79.8 187.6,79.3 190.6,79.4 196.6,80.6 204.6,80.7 207.6,80.4 211.6,79.6 214.6,79.4 222.6,79.7 227.6,80.7 229.6,80.9 238.6,80.3 243.6,79.4 245.6,79.2 255.6,80.1 261.6,80.9 263.6,80.8 267.6,80.2 277.6,79.2 279.6,79.4 284.6,80.3 293.6,80.9 295.6,80.7 301.6,79.6 308.6,79.4 311.6,79.6 317.6,80.7 325.6,80.6 327.6,80.5 332.6,79.5 334.6,79.3 342.6,79.7 348.6,80.8 350.6,80.9 359.6,80.1 364.6,79.3 366.6,79.2 380.6,80.8 382.6,80.9 388.6,80.0 397.6,79.3 400.6,79.5 405.6,80.4 413.6,80.8 416.6,80.6 420.6,79.7 422.6,79.5 430.6,79.5 432.6,79.7 437.6,80.7 439.6,80.8 447.6,80.4 453.6,79.4 455.6,79.3 463.6,79.9 469.6,80.9 471.6,81.0 485.6,79.4 487.6,79.4 493.6,80.3 502.6,81.2 504.6,81.1 510.6,80.2 518.6,80.0 520.6,80.2 526.6,81.6 534.6,82.3 536.6,82.4 541.6,82.0 543.6,82.2 550.6,83.9 553.6,85.1 558.6,87.7 560.6,88.3 562.6,88.5 565.6,88.3 568.6,87.6 574.6,84.8 577.6,83.9 585.6,82.9 591.6,82.8 598.6,81.3 607.6,80.0 609.6,80.1 614.6,80.8 623.6,81.2 625.6,81.0 630.6,80.0 632.6,79.8 640.6,79.6 646.6,80.7 649.6,80.8 656.6,80.6 662.6,79.5 664.6,79.4 672.6,79.8 677.6,80.6"/>
<polyline stroke="#f5e538" points="131.6,78.8 133.6,78.9 138.6,79.9 140.6,79.9 149.6,79.1 154.6,78.3 156.6,78.2 162.6,79.1 171.6,80.0 173.6,79.9 179.6,78.9 187.6,78.3 189.6,78.4 195.6,79.5 203.6,79.8 205.6,79.7 211.6,78.6 219.6,78.5 222.6,78.8 227.6,79.8 229.6,79.8 237.6,79.4 242.6,78.5 244.6,78.3 253.6,79.0 260.6,80.0 276.6,78.2 278.6,78.4 283.6,79.2 292.6,79.9 294.6,79.8 299.6,78.8 308.6,78.4 310.6,78.5 316.6,79.6 324.6,79.7 326.6,79.6 331.6,78.5 333.6,78.4 341.6,78.7 347.6,79.8 349.6,79.9 358.6,79.2 363.6,78.4 365.6,78.2 381.6,80.0 387.6,79.1 396.6,78.3 399.6,78.5 404.6,79.4 412.6,79.9 415.6,79.7 420.6,78.7 428.6,78.4 431.6,78.7 435.6,79.5 437.6,79.8 445.6,79.6 447.6,79.4 452.6,78.5 454.6,78.4 462.6,78.9 468.6,79.9 470.6,80.0 479.6,79.2 485.6,78.4 487.6,78.4 491.6,79.1 500.6,80.2 502.6,80.2 508.6,79.4 517.6,78.9 519.6,79.1 525.6,80.5 533.6,81.3 535.6,81.3 540.6,80.9 543.6,81.1 550.6,82.8 558.6,86.5 560.6,87.0 563.6,87.2 565.6,87.1 567.6,86.8 569.6,86.0 573.6,84.1 576.6,83.1 583.6,82.0 590.6,81.9 596.6,80.7 606.6,79.1 608.6,79.1 613.6,79.8 622.6,80.3 624.6,80.1 629.6,79.1 637.6,78.5 640.6,78.7 646.6,79.7 653.6,79.8 656.6,79.6 661.6,78.6 664.6,78.4 672.6,78.8 677.6,79.8"/>
<polyline stroke="#f5e538" points="131.6,80.6 135.6,80.9 140.6,81.7 142.6,81.8 148.6,81.0 158.6,80.1 164.6,81.0 173.6,81.7 175.6,81.6 181.6,80.5 189.6,80.2 192.6,80.5 197.6,81.5 206.6,81.5 208.6,81.2 212.6,80.4 215.6,80.2 223.6,80.6 230.6,81.8 239.6,81.0 246.6,80.1 262.6,81.8 264.6,81.7 269.6,80.8 278.6,80.1 280.6,80.2 286.6,81.3 294.6,81.7 296.6,81.5 301.6,80.5 303.6,80.3 311.6,80.4 317.6,81.5 319.6,81.6 327.6,81.3 333.6,80.3 335.6,80.1 344.6,80.8 349.6,81.6 351.6,81.8 367.6,80.1 373.6,80.9 383.6,81.8 385.6,81.6 390.6,80.7 399.6,80.2 401.6,80.4 405.6,81.2 408.6,81.5 416.6,81.5 421.6,80.5 424.6,80.3 432.6,80.5 438.6,81.6 440.6,81.7 448.6,81.2 454.6,80.2 456.6,80.1 465.6,81.0 470.6,81.8 472.6,81.8 478.6,81.1 486.6,80.3 488.6,80.2 494.6,81.2 503.6,82.0 505.6,81.9 511.6,81.0 519.6,80.9 521.6,81.1 526.6,82.3 528.6,82.6 536.6,83.2 542.6,82.8 544.6,82.9 546.6,83.3 552.6,85.1 559.6,88.4 562.6,88.9 565.6,88.7 568.6,88.1 570.6,87.4 575.6,85.1 578.6,84.3 586.6,83.5 592.6,83.5 599.6,82.0 608.6,80.8 610.6,80.9 616.6,81.8 624.6,82.0 626.6,81.8 632.6,80.6 640.6,80.4 642.6,80.6 647.6,81.6 649.6,81.7 657.6,81.4 663.6,80.3 665.6,80.2 674.6,80.8 677.6,81.3"/>
<polyline stroke="#f5e538" points="131.6,80.6 137.6,81.7 139.6,81.8 148.6,81.1 153.6,80.2 155.6,80.1 171.6,81.8 178.6,80.8 186.6,80.2 189.6,80.4 194.6,81.3 202.6,81.7 205.6,81.5 209.6,80.7 211.6,80.4 218.6,80.4 221.6,80.6 225.6,81.4 228.6,81.7 236.6,81.4 242.6,80.3 244.6,80.2 253.6,80.9 258.6,81.7 260.6,81.8 270.6,80.8 274.6,80.2 276.6,80.1 282.6,81.0 291.6,81.8 293.6,81.7 299.6,80.7 307.6,80.2 309.6,80.3 315.6,81.4 323.6,81.6 326.6,81.4 331.6,80.4 333.6,80.3 341.6,80.6 346.6,81.5 349.6,81.8 357.6,81.2 364.6,80.1 374.6,81.0 380.6,81.8 396.6,80.1 398.6,80.3 403.6,81.1 412.6,81.8 414.6,81.6 420.6,80.6 428.6,80.3 430.6,80.4 436.6,81.6 444.6,81.6 446.6,81.4 451.6,80.4 453.6,80.2 462.6,80.8 467.6,81.7 469.6,81.9 478.6,81.1 483.6,80.3 485.6,80.2 501.6,82.1 508.6,81.2 517.6,80.7 519.6,81.0 524.6,82.1 532.6,83.0 535.6,83.0 540.6,82.6 543.6,82.9 548.6,83.8 550.6,84.3 556.6,87.2 558.6,87.9 561.6,88.4 564.6,88.6 567.6,88.2 573.6,85.6 576.6,84.8 583.6,83.8 588.6,83.8 590.6,83.7 595.6,82.6 605.6,80.9 607.6,80.9 612.6,81.6 621.6,82.2 623.6,82.0 629.6,80.9 637.6,80.4 639.6,80.4 645.6,81.5 653.6,81.7 656.6,81.4 661.6,80.4 663.6,80.3 671.6,80.6 677.6,81.7"/>
<polyline stroke="#f5e538" points="131.6,78.5 134.6,78.8 138.6,79.6 140.6,79.7 156.6,78.0 162.6,78.8 172.6,79.7 179.6,78.6 187.6,78.1 189.6,78.1 195.6,79.2 203.6,79.5 206.6,79.3 211.6,78.3 213.6,78.2 221.6,78.4 226.6,79.4 229.6,79.6 237.6,79.1 243.6,78.1 245.6,78.0 254.6,78.8 260.6,79.7 276.6,78.0 278.6,78.1 283.6,78.9 292.6,79.7 294.6,79.5 300.6,78.5 308.6,78.1 310.6,78.3 316.6,79.4 324.6,79.5 326.6,79.3 331.6,78.3 333.6,78.1 342.6,78.5 347.6,79.5 349.6,79.7 358.6,79.0 363.6,78.1 365.6,78.0 381.6,79.7 387.6,78.9 396.6,78.0 399.6,78.2 404.6,79.1 413.6,79.6 415.6,79.4 420.6,78.4 422.6,78.3 430.6,78.3 436.6,79.4 438.6,79.5 446.6,79.3 452.6,78.2 454.6,78.1 462.6,78.6 468.6,79.6 470.6,79.7 479.6,78.9 484.6,78.2 486.6,78.1 492.6,78.9 502.6,79.9 509.6,79.0 517.6,78.6 520.6,79.0 525.6,80.1 533.6,80.9 536.6,80.8 540.6,80.4 543.6,80.6 548.6,81.5 551.6,82.4 558.6,85.5 560.6,86.0 563.6,86.2 565.6,86.2 567.6,85.9 569.6,85.2 573.6,83.3 576.6,82.5 583.6,81.5 589.6,81.6 591.6,81.4 596.6,80.3 606.6,78.7 608.6,78.8 613.6,79.5 622.6,80.0 624.6,79.8 630.6,78.7 637.6,78.3 640.6,78.4 646.6,79.5 653.6,79.5 656.6,79.4 661.6,78.3 664.6,78.2 672.6,78.6 677.6,79.5"/>
<polyline stroke="#f5e538" points="131.6,81.6 134.6,81.9 138.6,82.7 140.6,82.8 149.6,81.9 154.6,81.1 156.6,81.0 162.6,81.9 171.6,82.8 173.6,82.7 179.6,81.7 187.6,81.1 189.6,81.2 195.6,82.3 203.6,82.6 206.6,82.3 211.6,81.4 219.6,81.3 222.6,81.6 227.6,82.6 229.6,82.7 237.6,82.2 242.6,81.3 244.6,81.1 253.6,81.8 260.6,82.8 276.6,81.0 278.6,81.2 283.6,82.0 292.6,82.7 294.6,82.6 300.6,81.5 308.6,81.2 310.6,81.3 316.6,82.4 324.6,82.5 326.6,82.4 331.6,81.4 333.6,81.2 341.6,81.5 347.6,82.6 349.6,82.7 358.6,82.1 363.6,81.2 365.6,81.1 381.6,82.8 387.6,81.9 396.6,81.1 399.6,81.3 404.6,82.2 413.6,82.7 415.6,82.5 419.6,81.6 422.6,81.4 430.6,81.3 435.6,82.3 438.6,82.6 446.6,82.4 452.6,81.3 454.6,81.2 462.6,81.7 468.6,82.7 470.6,82.8 479.6,82.0 485.6,81.1 487.6,81.2 491.6,81.9 500.6,82.9 502.6,83.0 508.6,82.1 517.6,81.7 519.6,81.8 525.6,83.1 533.6,83.9 535.6,83.9 540.6,83.4 543.6,83.6 550.6,84.9 558.6,88.4 561.6,88.9 564.6,89.0 566.6,88.9 568.6,88.4 573.6,86.2 576.6,85.4 583.6,84.5 590.6,84.5 596.6,83.3 606.6,81.8 608.6,81.8 613.6,82.5 622.6,83.1 624.6,82.9 629.6,81.9 637.6,81.3 640.6,81.5 646.6,82.5 653.6,82.6 656.6,82.4 661.6,81.4 664.6,81.2 672.6,81.6 677.6,82.6"/>
<polyline stroke="#f5e538" points="131.6,80.7 134.6,80.9 139.6,81.8 141.6,81.8 150.6,80.9 155.6,80.2 157.6,80.1 163.6,81.0 172.6,81.8 174.6,81.7 179.6,80.8 187.6,80.2 190.6,80.4 196.6,81.5 203.6,81.7 206.6,81.5 211.6,80.5 214.6,80.3 221.6,80.5 227.6,81.6 229.6,81.8 238.6,81.2 243.6,80.3 245.6,80.1 254.6,81.0 259.6,81.7 261.6,81.9 276.6,80.2 278.6,80.2 284.6,81.2 293.6,81.8 295.6,81.6 300.6,80.6 308.6,80.3 311.6,80.5 315.6,81.4 317.6,81.6 325.6,81.6 327.6,81.4 332.6,80.4 334.6,80.2 342.6,80.7 348.6,81.7 350.6,81.8 359.6,81.0 364.6,80.2 366.6,80.1 381.6,81.9 383.6,81.8 388.6,80.9 397.6,80.2 399.6,80.3 405.6,81.3 413.6,81.7 415.6,81.6 420.6,80.6 422.6,80.4 430.6,80.4 432.6,80.6 436.6,81.5 439.6,81.7 447.6,81.4 452.6,80.4 454.6,80.2 463.6,80.8 470.6,81.9 486.6,80.2 488.6,80.4 493.6,81.2 502.6,82.1 504.6,82.0 509.6,81.1 518.6,80.8 520.6,81.0 526.6,82.3 534.6,82.9 536.6,82.9 541.6,82.4 543.6,82.5 551.6,84.2 557.6,86.8 559.6,87.5 563.6,87.9 566.6,87.7 568.6,87.3 574.6,84.9 576.6,84.3 584.6,83.4 591.6,83.5 597.6,82.2 606.6,80.9 609.6,80.9 614.6,81.7 623.6,82.1 625.6,81.9 629.6,81.0 632.6,80.7 639.6,80.4 641.6,80.6 646.6,81.6 649.6,81.7 656.6,81.5 662.6,80.4 664.6,80.3 672.6,80.7 677.6,81.6"/>
<polyline stroke="#f5e538" points="131.6,79.4 134.6,79.7 139.6,80.5 141.6,80.6 155.6,78.9 157.6,78.9 163.6,79.8 172.6,80.6 174.6,80.4 180.6,79.4 187.6,79.0 190.6,79.1 196.6,80.2 204.6,80.4 207.6,80.1 211.6,79.2 214.6,79.0 222.6,79.4 227.6,80.3 229.6,80.5 238.6,79.9 243.6,79.0 245.6,78.9 255.6,79.8 261.6,80.6 267.6,79.8 277.6,78.9 279.6,79.0 284.6,79.9 293.6,80.5 295.6,80.3 300.6,79.4 308.6,79.0 311.6,79.2 317.6,80.3 325.6,80.3 327.6,80.1 332.6,79.1 334.6,79.0 342.6,79.4 348.6,80.4 350.6,80.6 359.6,79.8 364.6,79.0 366.6,78.9 380.6,80.5 382.6,80.6 388.6,79.7 397.6,78.9 399.6,79.0 405.6,80.1 413.6,80.5 415.6,80.4 420.6,79.4 422.6,79.1 430.6,79.1 432.6,79.4 437.6,80.4 439.6,80.5 447.6,80.1 453.6,79.0 455.6,78.9 464.6,79.7 470.6,80.6 472.6,80.5 486.6,78.9 488.6,79.1 493.6,79.9 502.6,80.8 504.6,80.7 510.6,79.8 518.6,79.5 520.6,79.7 526.6,81.0 534.6,81.6 536.6,81.6 541.6,81.1 543.6,81.1 551.6,82.7 553.6,83.5 557.6,85.3 559.6,86.0 561.6,86.3 563.6,86.4 566.6,86.2 568.6,85.8 574.6,83.4 576.6,82.9 584.6,82.1 591.6,82.2 597.6,80.9 607.6,79.5 609.6,79.6 614.6,80.4 623.6,80.8 625.6,80.6 630.6,79.6 632.6,79.4 640.6,79.2 646.6,80.3 649.6,80.4 656.6,80.3 662.6,79.1 664.6,79.0 672.6,79.4 677.6,80.3"/>
<polyline stroke="#f5e538" points="131.6,79.5 133.6,79.7 138.6,80.6 140.6,80.7 149.6,79.9 154.6,79.1 156.6,79.0 162.6,79.8 171.6,80.7 173.6,80.6 179.6,79.6 187.6,79.1 189.6,79.2 195.6,80.3 203.6,80.6 205.6,80.5 211.6,79.3 219.6,79.3 222.6,79.6 227.6,80.5 229.6,80.6 237.6,80.2 242.6,79.2 244.6,79.0 253.6,79.8 260.6,80.7 276.6,79.0 278.6,79.1 283.6,80.0 292.6,80.7 294.6,80.5 299.6,79.6 308.6,79.1 310.6,79.3 316.6,80.4 324.6,80.5 326.6,80.3 331.6,79.3 333.6,79.2 341.6,79.5 347.6,80.5 349.6,80.7 358.6,80.0 363.6,79.1 365.6,79.0 381.6,80.7 387.6,79.9 396.6,79.0 399.6,79.2 404.6,80.1 412.6,80.6 415.6,80.4 420.6,79.5 428.6,79.2 431.6,79.4 435.6,80.3 437.6,80.5 445.6,80.4 447.6,80.2 452.6,79.2 454.6,79.1 462.6,79.6 468.6,80.7 470.6,80.7 479.6,79.9 485.6,79.1 487.6,79.2 491.6,79.8 500.6,80.9 502.6,80.9 508.6,80.0 517.6,79.5 519.6,79.7 525.6,81.0 533.6,81.7 535.6,81.7 540.6,81.1 543.6,81.2 550.6,82.5 558.6,85.6 561.6,86.1 564.6,86.3 566.6,86.2 568.6,85.7 573.6,83.7 576.6,83.0 583.6,82.2 590.6,82.3 596.6,81.2 606.6,79.7 608.6,79.7 613.6,80.4 622.6,81.0 624.6,80.8 629.6,79.8 637.6,79.3 640.6,79.4 646.6,80.5 653.6,80.5 656.6,80.4 661.6,79.3 664.6,79.2 672.6,79.6 677.6,80.5"/>
<polyline stroke="#f5e538" points="131.6,80.7 134.6,81.0 139.6,81.8 141.6,81.9 150.6,80.9 155.6,80.2 157.6,80.2 163.6,81.1 172.6,81.9 174.6,81.7 179.6,80.8 187.6,80.3 190.6,80.4 196.6,81.5 204.6,81.7 207.6,81.4 211.6,80.5 214.6,80.3 222.6,80.7 227.6,81.6 229.6,81.8 238.6,81.2 243.6,80.3 245.6,80.2 255.6,81.1 261.6,81.9 267.6,81.1 277.6,80.2 279.6,80.3 284.6,81.2 293.6,81.8 295.6,81.6 300.6,80.7 308.6,80.3 311.6,80.5 317.6,81.6 325.6,81.6 327.6,81.4 332.6,80.4 334.6,80.3 342.6,80.7 348.6,81.7 350.6,81.9 359.6,81.1 364.6,80.3 366.6,80.2 380.6,81.8 382.6,81.9 388.6,81.0 397.6,80.2 399.6,80.3 405.6,81.4 413.6,81.8 415.6,81.7 420.6,80.7 422.6,80.4 430.6,80.4 432.6,80.7 436.6,81.5 439.6,81.7 447.6,81.4 452.6,80.5 455.6,80.2 464.6,81.0 470.6,81.9 472.6,81.8 486.6,80.2 488.6,80.4 493.6,81.2 502.6,82.1 504.6,82.0 510.6,81.0 518.6,80.7 520.6,80.9 526.6,82.2 534.6,82.8 536.6,82.8 541.6,82.2 543.6,82.2 551.6,83.7 553.6,84.4 557.6,86.2 559.6,86.8 563.6,87.2 566.6,87.0 568.6,86.7 574.6,84.4 576.6,83.9 584.6,83.2 591.6,83.3 597.6,82.1 607.6,80.8 609.6,80.9 614.6,81.6 623.6,82.1 625.6,81.9 630.6,80.8 632.6,80.7 640.6,80.5 646.6,81.6 649.6,81.7 656.6,81.6 662.6,80.4 664.6,80.3 672.6,80.7 677.6,81.6"/>
<polyline stroke="#f5e538" points="131.6,78.6 134.6,78.8 139.6,79.7 141.6,79.8 155.6,78.1 157.6,78.0 163.6,78.9 173.6,79.7 180.6,78.6 188.6,78.2 191.6,78.4 196.6,79.4 204.6,79.5 207.6,79.3 212.6,78.3 214.6,78.2 222.6,78.5 227.6,79.5 230.6,79.7 238.6,79.1 244.6,78.1 246.6,78.1 261.6,79.8 263.6,79.7 268.6,78.9 277.6,78.1 279.6,78.2 284.6,79.1 293.6,79.7 295.6,79.5 301.6,78.4 309.6,78.2 311.6,78.4 317.6,79.5 325.6,79.4 327.6,79.3 332.6,78.3 334.6,78.1 343.6,78.7 348.6,79.6 350.6,79.7 359.6,79.0 366.6,78.0 382.6,79.8 384.6,79.6 389.6,78.7 397.6,78.1 400.6,78.3 405.6,79.2 413.6,79.6 416.6,79.4 422.6,78.3 430.6,78.3 432.6,78.5 437.6,79.5 439.6,79.6 447.6,79.3 453.6,78.2 455.6,78.1 464.6,78.8 469.6,79.7 471.6,79.8 485.6,78.2 487.6,78.1 493.6,79.1 502.6,79.9 504.6,79.9 510.6,78.9 518.6,78.6 521.6,78.9 526.6,80.1 534.6,80.6 536.6,80.6 541.6,80.0 543.6,80.0 551.6,81.5 553.6,82.1 557.6,83.8 559.6,84.5 561.6,84.8 563.6,84.8 566.6,84.7 568.6,84.4 570.6,83.8 574.6,82.2 577.6,81.5 585.6,81.0 590.6,81.2 592.6,81.1 598.6,79.8 607.6,78.6 609.6,78.7 614.6,79.5 623.6,79.9 625.6,79.8 631.6,78.6 639.6,78.3 641.6,78.5 646.6,79.5 648.6,79.6 656.6,79.4 662.6,78.3 664.6,78.2 673.6,78.7 677.6,79.4"/>
<polyline stroke="#f5e538" points="131.6,79.3 134.6,79.5 139.6,80.4 141.6,80.4 155.6,78.8 157.6,78.7 163.6,79.6 172.6,80.4 174.6,80.3 180.6,79.3 187.6,78.9 190.6,79.0 196.6,80.1 204.6,80.2 207.6,80.0 211.6,79.1 214.6,78.9 222.6,79.2 227.6,80.2 229.6,80.4 238.6,79.8 243.6,78.9 245.6,78.7 255.6,79.7 261.6,80.5 263.6,80.3 267.6,79.7 277.6,78.7 279.6,78.9 284.6,79.8 293.6,80.4 295.6,80.2 301.6,79.1 308.6,78.9 311.6,79.1 317.6,80.2 325.6,80.1 327.6,80.0 332.6,79.0 334.6,78.8 342.6,79.3 348.6,80.3 350.6,80.4 359.6,79.6 364.6,78.8 366.6,78.7 380.6,80.4 382.6,80.5 388.6,79.5 397.6,78.8 400.6,79.0 405.6,79.9 413.6,80.3 416.6,80.1 420.6,79.2 422.6,79.0 430.6,79.0 432.6,79.2 437.6,80.2 439.6,80.3 447.6,80.0 453.6,78.9 455.6,78.8 463.6,79.4 469.6,80.4 471.6,80.5 486.6,78.8 488.6,78.9 493.6,79.7 502.6,80.6 504.6,80.5 510.6,79.6 518.6,79.3 520.6,79.4 526.6,80.7 534.6,81.2 536.6,81.2 541.6,80.6 543.6,80.6 551.6,82.0 559.6,84.9 563.6,85.3 566.6,85.1 568.6,84.8 574.6,82.7 576.6,82.2 584.6,81.6 591.6,81.8 598.6,80.5 607.6,79.3 609.6,79.4 614.6,80.2 622.6,80.6 625.6,80.4 631.6,79.3 638.6,79.0 641.6,79.2 646.6,80.2 648.6,80.3 656.6,80.1 662.6,79.0 664.6,78.9 672.6,79.3 677.6,80.1"/>
<polyline stroke="#f5e538" points="131.6,79.8 134.6,80.0 139.6,80.8 141.6,80.9 155.6,79.3 157.6,79.2 163.6,80.1 173.6,80.9 180.6,79.8 188.6,79.3 191.6,79.6 196.6,80.5 204.6,80.7 207.6,80.5 212.6,79.5 214.6,79.4 222.6,79.7 227.6,80.6 230.6,80.9 238.6,80.3 244.6,79.3 246.6,79.2 261.6,80.9 263.6,80.8 268.6,80.1 277.6,79.2 279.6,79.3 284.6,80.3 293.6,80.8 295.6,80.7 301.6,79.6 309.6,79.4 311.6,79.5 317.6,80.7 325.6,80.6 327.6,80.5 332.6,79.5 334.6,79.3 343.6,79.8 348.6,80.7 350.6,80.9 359.6,80.1 366.6,79.2 382.6,80.9 384.6,80.8 389.6,79.9 397.6,79.3 400.6,79.4 405.6,80.4 413.6,80.8 416.6,80.6 422.6,79.5 430.6,79.5 432.6,79.7 437.6,80.7 439.6,80.8 447.6,80.4 453.6,79.4 455.6,79.3 464.6,80.0 469.6,80.9 471.6,81.0 485.6,79.4 487.6,79.3 493.6,80.2 502.6,81.1 504.6,81.0 510.6,80.0 518.6,79.7 521.6,80.0 526.6,81.2 534.6,81.7 536.6,81.7 541.6,81.0 543.6,81.0 551.6,82.3 559.6,85.2 563.6,85.5 568.6,85.1 570.6,84.5 574.6,83.0 576.6,82.5 585.6,82.0 591.6,82.2 598.6,80.9 607.6,79.8 609.6,79.8 614.6,80.6 623.6,81.1 625.6,80.9 631.6,79.8 639.6,79.5 641.6,79.6 646.6,80.6 648.6,80.8 656.6,80.6 662.6,79.5 664.6,79.3 673.6,79.8 677.6,80.6"/>
<polyline stroke="#f5e538" points="131.6,80.2 140.6,81.4 156.6,79.7 163.6,80.6 172.6,81.4 174.6,81.2 179.6,80.3 187.6,79.8 190.6,80.0 196.6,81.0 203.6,81.2 206.6,81.0 211.6,80.0 214.6,79.9 221.6,80.1 227.6,81.2 229.6,81.3 237.6,80.9 243.6,79.8 245.6,79.7 254.6,80.5 259.6,81.3 261.6,81.4 276.6,79.7 278.6,79.8 284.6,80.8 292.6,81.4 294.6,81.3 300.6,80.2 308.6,79.8 310.6,79.9 315.6,80.9 317.6,81.2 325.6,81.1 327.6,80.9 332.6,79.9 334.6,79.8 342.6,80.2 348.6,81.3 350.6,81.4 359.6,80.6 365.6,79.7 367.6,79.8 381.6,81.4 383.6,81.3 388.6,80.5 397.6,79.7 399.6,79.9 405.6,80.9 413.6,81.3 415.6,81.2 420.6,80.2 422.6,80.0 430.6,80.0 436.6,81.1 439.6,81.3 447.6,80.9 452.6,79.9 454.6,79.8 463.6,80.4 468.6,81.3 470.6,81.4 486.6,79.8 492.6,80.6 502.6,81.6 504.6,81.4 509.6,80.6 517.6,80.2 520.6,80.4 526.6,81.6 533.6,82.1 536.6,82.1 541.6,81.4 543.6,81.4 551.6,82.7 557.6,84.9 559.6,85.4 564.6,85.7 568.6,85.3 573.6,83.6 576.6,82.9 584.6,82.4 591.6,82.7 597.6,81.5 606.6,80.2 608.6,80.3 614.6,81.1 622.6,81.6 624.6,81.5 630.6,80.3 637.6,80.0 640.6,80.0 645.6,81.0 648.6,81.2 656.6,81.1 661.6,80.1 664.6,79.8 672.6,80.3 677.6,81.2"/>
<polyline stroke="#f5e538" points="131.6,80.0 134.6,80.2 139.6,81.1 141.6,81.1 155.6,79.5 157.6,79.4 163.6,80.3 172.6,81.1 174.6,81.0 180.6,80.0 187.6,79.6 190.6,79.7 196.6,80.8 204.6,80.9 207.6,80.6 211.6,79.8 214.6,79.6 222.6,79.9 227.6,80.9 229.6,81.1 238.6,80.5 243.6,79.6 245.6,79.4 255.6,80.4 261.6,81.2 267.6,80.4 277.6,79.4 279.6,79.6 284.6,80.5 293.6,81.1 295.6,80.9 300.6,79.9 308.6,79.6 311.6,79.8 317.6,80.9 325.6,80.8 327.6,80.7 332.6,79.7 334.6,79.5 342.6,80.0 348.6,81.0 350.6,81.1 359.6,80.3 364.6,79.5 366.6,79.4 380.6,81.1 382.6,81.1 388.6,80.2 397.6,79.5 400.6,79.7 405.6,80.6 413.6,81.0 416.6,80.8 420.6,79.9 422.6,79.7 431.6,79.8 436.6,80.8 439.6,81.0 447.6,80.7 453.6,79.6 455.6,79.5 464.6,80.2 470.6,81.2 472.6,81.1 486.6,79.5 488.6,79.6 493.6,80.4 502.6,81.3 504.6,81.2 510.6,80.2 518.6,79.9 520.6,80.1 526.6,81.3 534.6,81.8 536.6,81.8 541.6,81.1 543.6,81.1 551.6,82.2 559.6,84.9 563.6,85.2 566.6,85.1 568.6,84.8 574.6,82.9 576.6,82.5 584.6,82.1 591.6,82.3 598.6,81.1 607.6,79.9 609.6,80.0 614.6,80.8 622.6,81.3 625.6,81.1 631.6,80.0 638.6,79.7 641.6,79.9 645.6,80.7 648.6,81.0 656.6,80.8 662.6,79.7 664.6,79.6 672.6,80.0 677.6,80.8"/>
<polyline stroke="#f5e538" points="131.6,80.4 135.6,80.7 141.6,81.6 157.6,79.8 159.6,80.0 164.6,80.8 173.6,81.5 175.6,81.3 181.6,80.3 189.6,80.0 191.6,80.1 197.6,81.2 205.6,81.3 207.6,81.1 212.6,80.1 214.6,80.0 222.6,80.3 228.6,81.4 230.6,81.5 239.6,80.8 244.6,80.0 246.6,79.8 262.6,81.6 268.6,80.7 277.6,79.9 280.6,80.1 285.6,81.0 293.6,81.4 295.6,81.4 300.6,80.4 303.6,80.1 311.6,80.1 316.6,81.1 319.6,81.4 327.6,81.1 333.6,80.0 335.6,79.9 343.6,80.4 349.6,81.4 351.6,81.5 360.6,80.6 365.6,79.9 367.6,79.8 373.6,80.7 382.6,81.5 384.6,81.4 390.6,80.4 398.6,79.9 400.6,80.0 406.6,81.1 414.6,81.4 417.6,81.1 422.6,80.1 430.6,80.1 433.6,80.4 437.6,81.2 439.6,81.4 448.6,81.0 453.6,80.1 455.6,79.9 464.6,80.6 471.6,81.6 487.6,79.9 489.6,80.0 494.6,80.9 503.6,81.7 505.6,81.5 510.6,80.6 518.6,80.3 521.6,80.5 526.6,81.7 528.6,81.9 536.6,82.1 542.6,81.4 544.6,81.4 552.6,82.7 559.6,85.1 562.6,85.4 568.6,85.0 570.6,84.6 575.6,82.9 577.6,82.6 586.6,82.4 592.6,82.6 598.6,81.4 607.6,80.3 610.6,80.4 615.6,81.3 623.6,81.6 626.6,81.4 631.6,80.4 639.6,80.1 642.6,80.3 646.6,81.2 648.6,81.4 657.6,81.1 663.6,80.0 665.6,79.9 673.6,80.5 677.6,81.1"/>
<polyline stroke="#f5e538" points="131.6,81.2 140.6,82.4 156.6,80.7 162.6,81.5 172.6,82.4 174.6,82.2 179.6,81.3 187.6,80.8 190.6,81.0 196.6,82.0 203.6,82.2 206.6,82.0 211.6,81.0 214.6,80.9 221.6,81.1 227.6,82.2 229.6,82.3 237.6,81.9 243.6,80.8 245.6,80.7 254.6,81.5 259.6,82.3 261.6,82.4 276.6,80.7 278.6,80.8 284.6,81.8 292.6,82.4 294.6,82.3 300.6,81.2 308.6,80.8 310.6,80.9 315.6,81.9 317.6,82.2 325.6,82.1 327.6,81.9 332.6,80.9 334.6,80.8 342.6,81.2 348.6,82.3 350.6,82.4 359.6,81.6 365.6,80.7 367.6,80.8 381.6,82.4 383.6,82.3 388.6,81.5 397.6,80.7 399.6,80.9 405.6,81.9 413.6,82.3 415.6,82.2 420.6,81.2 422.6,81.0 430.6,81.0 436.6,82.1 439.6,82.3 447.6,81.9 452.6,80.9 454.6,80.8 463.6,81.4 468.6,82.3 470.6,82.4 486.6,80.7 492.6,81.6 502.6,82.5 504.6,82.4 509.6,81.5 517.6,81.1 520.6,81.3 526.6,82.5 533.6,82.9 535.6,83.0 540.6,82.3 543.6,82.2 551.6,83.2 557.6,85.3 559.6,85.7 564.6,86.0 568.6,85.7 573.6,84.1 576.6,83.5 584.6,83.2 589.6,83.5 591.6,83.5 597.6,82.4 606.6,81.2 608.6,81.2 614.6,82.1 622.6,82.6 624.6,82.5 630.6,81.3 638.6,80.9 640.6,81.0 645.6,82.0 647.6,82.2 655.6,82.2 657.6,81.9 662.6,80.9 664.6,80.8 672.6,81.2 677.6,82.2"/>
<polyline stroke="#f5e538" points="131.6,79.3 140.6,80.5 156.6,78.7 162.6,79.5 172.6,80.4 174.6,80.3 179.6,79.4 187.6,78.8 190.6,79.0 196.6,80.1 203.6,80.3 206.6,80.1 211.6,79.1 214.6,78.9 221.6,79.1 227.6,80.2 229.6,80.4 237.6,79.9 243.6,78.9 245.6,78.8 254.6,79.6 259.6,80.4 261.6,80.5 276.6,78.8 278.6,78.8 284.6,79.8 292.6,80.4 294.6,80.3 300.6,79.2 308.6,78.9 310.6,79.0 315.6,80.0 317.6,80.2 325.6,80.2 327.6,79.9 332.6,79.0 334.6,78.9 342.6,79.3 348.6,80.3 350.6,80.4 359.6,79.6 365.6,78.7 367.6,78.8 381.6,80.5 383.6,80.4 388.6,79.5 397.6,78.8 399.6,78.9 405.6,79.9 413.6,80.3 415.6,80.2 420.6,79.2 422.6,79.0 430.6,79.0 436.6,80.1 439.6,80.3 447.6,80.0 452.6,79.0 454.6,78.8 463.6,79.4 468.6,80.3 470.6,80.5 486.6,78.8 492.6,79.6 502.6,80.6 504.6,80.4 509.6,79.6 517.6,79.1 520.6,79.3 526.6,80.5 533.6,80.9 536.6,80.9 540.6,80.2 543.6,80.1 551.6,81.1 557.6,83.1 559.6,83.6 564.6,83.8 568.6,83.5 573.6,81.9 575.6,81.5 584.6,81.1 589.6,81.5 591.6,81.5 597.6,80.4 606.6,79.2 608.6,79.2 614.6,80.1 622.6,80.6 624.6,80.5 630.6,79.4 638.6,79.0 640.6,79.1 645.6,80.0 647.6,80.2 655.6,80.2 657.6,80.0 662.6,79.0 664.6,78.9 672.6,79.3 677.6,80.2"/>
<polyline stroke="#f5e538" points="131.6,81.1 140.6,82.3 156.6,80.5 162.6,81.4 172.6,82.3 179.6,81.2 187.6,80.6 190.6,80.8 195.6,81.8 203.6,82.1 206.6,81.9 210.6,81.0 213.6,80.8 221.6,81.0 227.6,82.1 229.6,82.2 237.6,81.7 243.6,80.7 245.6,80.6 254.6,81.4 259.6,82.2 261.6,82.3 275.6,80.6 277.6,80.6 283.6,81.5 292.6,82.2 294.6,82.1 300.6,81.0 308.6,80.7 310.6,80.8 316.6,81.9 325.6,82.0 327.6,81.7 331.6,80.9 334.6,80.7 342.6,81.1 347.6,82.0 349.6,82.2 358.6,81.6 365.6,80.6 381.6,82.3 383.6,82.2 388.6,81.3 397.6,80.6 399.6,80.7 404.6,81.7 413.6,82.2 415.6,82.0 419.6,81.2 422.6,80.9 430.6,80.8 436.6,82.0 439.6,82.1 446.6,81.9 452.6,80.8 454.6,80.6 463.6,81.3 468.6,82.1 470.6,82.3 486.6,80.6 492.6,81.4 501.6,82.4 503.6,82.3 509.6,81.4 517.6,80.9 520.6,81.1 525.6,82.2 533.6,82.7 536.6,82.6 541.6,81.9 543.6,81.9 551.6,82.8 558.6,85.0 560.6,85.2 564.6,85.3 568.6,85.0 573.6,83.6 575.6,83.2 584.6,82.9 589.6,83.3 591.6,83.2 597.6,82.2 606.6,81.0 608.6,81.0 613.6,81.8 622.6,82.4 624.6,82.3 630.6,81.2 638.6,80.8 640.6,80.9 645.6,81.9 647.6,82.1 655.6,82.0 657.6,81.8 661.6,80.9 664.6,80.7 672.6,81.1 677.6,82.0"/>
<polyline stroke="#f5e538" points="131.6,80.1 134.6,80.4 138.6,81.1 140.6,81.3 156.6,79.5 163.6,80.4 172.6,81.3 174.6,81.1 179.6,80.2 187.6,79.6 190.6,79.8 196.6,80.9 203.6,81.1 206.6,80.9 211.6,79.9 214.6,79.7 221.6,79.9 227.6,81.0 229.6,81.2 238.6,80.6 243.6,79.7 245.6,79.6 254.6,80.4 259.6,81.2 261.6,81.3 276.6,79.6 278.6,79.6 284.6,80.6 292.6,81.2 295.6,81.0 300.6,80.0 308.6,79.7 311.6,79.9 315.6,80.8 317.6,81.0 325.6,81.0 327.6,80.8 332.6,79.8 334.6,79.7 342.6,80.1 348.6,81.1 350.6,81.2 359.6,80.5 364.6,79.6 366.6,79.6 381.6,81.3 383.6,81.2 388.6,80.3 397.6,79.6 399.6,79.7 405.6,80.8 413.6,81.2 415.6,81.0 420.6,80.0 422.6,79.8 430.6,79.8 436.6,80.9 439.6,81.1 447.6,80.8 452.6,79.8 454.6,79.6 463.6,80.2 468.6,81.1 470.6,81.3 486.6,79.6 493.6,80.5 502.6,81.4 504.6,81.2 509.6,80.3 517.6,79.9 520.6,80.1 526.6,81.3 533.6,81.6 536.6,81.6 540.6,80.9 543.6,80.8 551.6,81.6 557.6,83.5 559.6,83.9 563.6,84.1 568.6,83.8 575.6,82.0 584.6,81.8 591.6,82.2 597.6,81.1 607.6,79.9 614.6,80.9 622.6,81.4 625.6,81.1 630.6,80.1 638.6,79.8 641.6,80.0 645.6,80.8 647.6,81.1 656.6,80.9 661.6,79.9 664.6,79.7 672.6,80.1 677.6,81.0"/>
<polyline stroke="#f5e538" points="131.6,80.2 133.6,80.4 138.6,81.3 140.6,81.4 149.6,80.5 154.6,79.8 156.6,79.7 162.6,80.5 171.6,81.4 173.6,81.3 179.6,80.3 187.6,79.8 189.6,79.9 195.6,81.0 203.6,81.3 205.6,81.1 211.6,80.0 219.6,80.0 222.6,80.2 227.6,81.2 229.6,81.3 237.6,80.8 242.6,79.9 244.6,79.7 253.6,80.4 260.6,81.4 276.6,79.7 278.6,79.8 283.6,80.7 292.6,81.4 294.6,81.2 300.6,80.2 308.6,79.8 310.6,80.0 316.6,81.1 324.6,81.2 326.6,81.0 331.6,80.0 333.6,79.8 341.6,80.1 347.6,81.2 349.6,81.4 358.6,80.7 363.6,79.8 365.6,79.7 381.6,81.4 387.6,80.6 396.6,79.7 399.6,79.9 404.6,80.8 412.6,81.3 415.6,81.1 420.6,80.1 428.6,79.9 431.6,80.1 435.6,81.0 437.6,81.2 445.6,81.1 447.6,80.9 452.6,79.9 454.6,79.8 462.6,80.3 468.6,81.3 470.6,81.4 479.6,80.6 485.6,79.7 487.6,79.8 491.6,80.4 501.6,81.5 503.6,81.4 509.6,80.5 517.6,80.0 519.6,80.1 525.6,81.3 533.6,81.8 535.6,81.7 541.6,80.8 548.6,81.3 551.6,81.7 556.6,83.2 558.6,83.7 564.6,84.0 568.6,83.7 573.6,82.3 575.6,82.0 583.6,81.8 590.6,82.3 606.6,80.0 608.6,80.1 613.6,80.9 622.6,81.5 624.6,81.4 630.6,80.3 638.6,79.9 640.6,80.0 645.6,81.0 647.6,81.2 655.6,81.1 661.6,80.0 663.6,79.9 671.6,80.2 677.6,81.2"/>
<polyline stroke="#f5e538" points="131.6,81.3 134.6,81.6 138.6,82.3 140.6,82.5 156.6,80.8 162.6,81.6 172.6,82.5 179.6,81.4 187.6,80.8 190.6,81.1 195.6,82.0 203.6,82.3 205.6,82.2 210.6,81.2 213.6,81.0 221.6,81.2 226.6,82.1 229.6,82.4 237.6,81.9 243.6,80.9 245.6,80.8 254.6,81.6 260.6,82.5 262.6,82.4 266.6,81.8 276.6,80.8 278.6,80.9 283.6,81.7 292.6,82.4 294.6,82.3 300.6,81.2 307.6,80.9 310.6,81.0 316.6,82.2 323.6,82.2 326.6,82.1 331.6,81.1 334.6,80.9 342.6,81.3 347.6,82.3 349.6,82.4 358.6,81.8 363.6,80.9 365.6,80.8 381.6,82.5 388.6,81.5 397.6,80.8 399.6,81.0 404.6,81.9 413.6,82.4 415.6,82.2 420.6,81.2 422.6,81.1 430.6,81.0 436.6,82.2 438.6,82.3 446.6,82.1 452.6,81.0 454.6,80.8 463.6,81.5 468.6,82.4 470.6,82.5 486.6,80.8 492.6,81.6 501.6,82.5 503.6,82.5 509.6,81.5 517.6,81.0 520.6,81.3 525.6,82.3 533.6,82.8 536.6,82.6 541.6,81.8 543.6,81.8 551.6,82.6 558.6,84.6 564.6,84.8 568.6,84.5 573.6,83.2 575.6,82.9 584.6,82.8 589.6,83.3 591.6,83.2 596.6,82.4 606.6,81.1 608.6,81.2 613.6,81.9 622.6,82.6 624.6,82.4 630.6,81.3 638.6,81.0 640.6,81.1 645.6,82.1 647.6,82.2 655.6,82.2 661.6,81.1 663.6,80.9 672.6,81.3 677.6,82.3"/>
<polyline stroke="#f5e538" points="131.6,79.8 135.6,80.1 139.6,80.8 141.6,81.0 157.6,79.2 159.6,79.4 164.6,80.2 173.6,80.9 175.6,80.7 180.6,79.8 188.6,79.4 191.6,79.5 197.6,80.6 205.6,80.7 207.6,80.5 212.6,79.5 214.6,79.4 222.6,79.7 228.6,80.8 230.6,80.9 239.6,80.2 244.6,79.3 246.6,79.2 256.6,80.3 260.6,80.9 262.6,80.9 268.6,80.1 277.6,79.3 279.6,79.3 285.6,80.4 293.6,80.8 295.6,80.8 300.6,79.8 302.6,79.6 310.6,79.4 312.6,79.7 316.6,80.5 319.6,80.8 327.6,80.5 332.6,79.5 335.6,79.3 343.6,79.8 350.6,80.9 360.6,80.0 366.6,79.2 382.6,80.9 384.6,80.8 389.6,79.9 398.6,79.3 400.6,79.4 406.6,80.5 414.6,80.8 416.6,80.6 422.6,79.5 430.6,79.5 432.6,79.7 437.6,80.7 439.6,80.8 448.6,80.3 453.6,79.4 455.6,79.3 464.6,80.0 471.6,81.0 487.6,79.3 489.6,79.4 494.6,80.3 503.6,81.0 505.6,80.8 510.6,79.9 518.6,79.6 521.6,79.8 525.6,80.7 528.6,81.0 536.6,81.1 542.6,80.2 544.6,80.2 552.6,81.1 558.6,82.8 561.6,83.2 568.6,82.8 576.6,81.0 585.6,81.2 592.6,81.6 598.6,80.5 607.6,79.5 609.6,79.6 615.6,80.6 623.6,81.0 626.6,80.7 631.6,79.7 639.6,79.5 642.6,79.7 646.6,80.6 648.6,80.8 657.6,80.5 664.6,79.3 673.6,79.8 677.6,80.5"/>
<polyline stroke="#f5e538" points="131.6,79.1 134.6,79.3 139.6,80.1 141.6,80.3 157.6,78.5 164.6,79.5 173.6,80.2 175.6,80.0 180.6,79.1 188.6,78.7 191.6,78.9 197.6,79.9 204.6,80.0 207.6,79.8 211.6,79.0 214.6,78.7 222.6,79.0 228.6,80.1 230.6,80.2 239.6,79.5 244.6,78.6 246.6,78.5 256.6,79.6 260.6,80.2 262.6,80.3 268.6,79.4 277.6,78.6 279.6,78.6 285.6,79.7 293.6,80.2 295.6,80.1 300.6,79.1 302.6,78.9 310.6,78.8 312.6,79.0 316.6,79.8 319.6,80.1 327.6,79.8 332.6,78.8 335.6,78.6 343.6,79.2 350.6,80.2 360.6,79.3 366.6,78.5 382.6,80.2 384.6,80.1 389.6,79.2 398.6,78.6 400.6,78.7 406.6,79.8 414.6,80.1 416.6,79.9 422.6,78.8 430.6,78.8 432.6,79.0 437.6,80.0 439.6,80.1 448.6,79.7 453.6,78.7 455.6,78.6 464.6,79.3 469.6,80.1 471.6,80.3 487.6,78.6 494.6,79.6 503.6,80.3 505.6,80.1 510.6,79.2 518.6,78.8 521.6,79.1 527.6,80.2 534.6,80.4 537.6,80.3 541.6,79.6 544.6,79.4 552.6,80.3 558.6,81.9 561.6,82.2 568.6,81.9 570.6,81.5 574.6,80.5 576.6,80.2 585.6,80.4 590.6,80.9 592.6,80.9 598.6,79.8 607.6,78.8 609.6,78.9 615.6,79.8 623.6,80.3 625.6,80.2 631.6,79.0 639.6,78.8 641.6,78.9 646.6,79.9 648.6,80.1 657.6,79.8 662.6,78.8 664.6,78.6 673.6,79.2 677.6,79.9"/>
<polyline stroke="#f5e538" points="131.6,80.9 134.6,81.1 139.6,81.9 141.6,82.0 155.6,80.4 157.6,80.3 163.6,81.2 172.6,82.0 174.6,81.9 180.6,80.9 187.6,80.4 190.6,80.5 196.6,81.6 204.6,81.8 207.6,81.5 211.6,80.7 214.6,80.5 222.6,80.8 227.6,81.8 229.6,82.0 238.6,81.4 245.6,80.3 255.6,81.2 261.6,82.0 263.6,81.9 268.6,81.2 277.6,80.3 279.6,80.5 284.6,81.4 293.6,82.0 295.6,81.8 301.6,80.7 308.6,80.5 311.6,80.7 317.6,81.8 325.6,81.7 328.6,81.4 332.6,80.6 334.6,80.4 343.6,80.9 348.6,81.9 350.6,82.0 359.6,81.2 364.6,80.4 366.6,80.3 382.6,82.0 389.6,81.0 397.6,80.4 400.6,80.6 405.6,81.5 413.6,81.9 416.6,81.7 420.6,80.8 422.6,80.6 430.6,80.6 432.6,80.8 437.6,81.8 439.6,81.9 447.6,81.5 453.6,80.5 455.6,80.4 464.6,81.1 469.6,82.0 471.6,82.0 486.6,80.3 488.6,80.4 493.6,81.2 502.6,82.1 504.6,82.0 510.6,81.0 518.6,80.6 520.6,80.7 526.6,81.9 534.6,82.2 537.6,82.0 541.6,81.2 544.6,81.1 551.6,81.7 553.6,82.1 558.6,83.5 561.6,83.7 568.6,83.4 574.6,82.0 576.6,81.8 585.6,82.1 590.6,82.6 592.6,82.6 597.6,81.7 607.6,80.6 609.6,80.7 614.6,81.5 623.6,82.1 625.6,81.9 631.6,80.8 638.6,80.5 641.6,80.7 646.6,81.7 648.6,81.8 656.6,81.7 662.6,80.6 664.6,80.4 673.6,80.9 677.6,81.7"/>
<polyline stroke="#f5e538" points="131.6,81.3 134.6,81.6 139.6,82.4 141.6,82.5 150.6,81.5 155.6,80.8 157.6,80.8 163.6,81.7 172.6,82.5 174.6,82.4 179.6,81.4 187.6,80.9 190.6,81.0 196.6,82.1 204.6,82.3 206.6,82.2 211.6,81.1 214.6,81.0 221.6,81.2 227.6,82.3 229.6,82.4 238.6,81.8 243.6,81.0 245.6,80.8 254.6,81.6 261.6,82.5 267.6,81.7 277.6,80.8 284.6,81.8 293.6,82.4 295.6,82.2 300.6,81.3 308.6,81.0 311.6,81.1 317.6,82.3 325.6,82.2 327.6,82.0 332.6,81.0 334.6,80.9 342.6,81.3 348.6,82.4 350.6,82.5 359.6,81.7 364.6,80.9 366.6,80.8 380.6,82.4 382.6,82.5 388.6,81.6 397.6,80.8 399.6,80.9 405.6,82.0 413.6,82.4 415.6,82.3 420.6,81.3 422.6,81.1 430.6,81.1 432.6,81.3 436.6,82.1 439.6,82.4 447.6,82.0 452.6,81.1 455.6,80.9 463.6,81.5 470.6,82.5 480.6,81.6 486.6,80.8 488.6,80.9 493.6,81.7 502.6,82.5 504.6,82.4 509.6,81.5 517.6,81.0 520.6,81.2 526.6,82.3 534.6,82.6 536.6,82.5 541.6,81.6 544.6,81.6 551.6,82.1 558.6,83.8 561.6,84.0 568.6,83.6 574.6,82.3 576.6,82.1 584.6,82.4 591.6,83.0 597.6,82.1 607.6,81.0 609.6,81.2 614.6,82.0 622.6,82.5 625.6,82.3 630.6,81.3 638.6,81.0 641.6,81.2 645.6,82.0 648.6,82.3 656.6,82.2 662.6,81.0 664.6,80.9 672.6,81.3 677.6,82.2"/>
</g>
<rect x="131.6" y="53.5" width="546.8" height="372.15" fill="none" stroke="#000" stroke-width="2.36"/>
<g stroke="#000" stroke-width="2.36">
<line x1="131.6" y1="425.65" x2="131.6" y2="435.95"/>
<line x1="268.3" y1="425.65" x2="268.3" y2="435.95"/>
<line x1="405.0" y1="425.65" x2="405.0" y2="435.95"/>
<line x1="541.7" y1="425.65" x2="541.7" y2="435.95"/>
<line x1="678.4" y1="425.65" x2="678.4" y2="435.95"/>
<line x1="131.6" y1="80.3" x2="121.3" y2="80.3"/>
<line x1="131.6" y1="201.7" x2="121.3" y2="201.7"/>
<line x1="131.6" y1="323.0" x2="121.3" y2="323.0"/>
</g>
<g font-family='"Liberation Serif", "DejaVu Serif", serif' font-size="35.3" fill="#000">
<text x="131.6" y="471.4" text-anchor="middle">−2</text>
<text x="268.3" y="471.4" text-anchor="middle">−1</text>
<text x="405.0" y="471.4" text-anchor="middle">0</text>
<text x="541.7" y="471.4" text-anchor="middle">1</text>
<text x="678.4" y="471.4" text-anchor="middle">2</text>
<text x="110.7" y="92.9" text-anchor="end">0</text>
<text x="110.7" y="214.2" text-anchor="end">−10</text>
<text x="110.7" y="335.6" text-anchor="end">−20</text>
<text x="404.8" y="35.8" text-anchor="middle">Spectral Behavior of Ring Modulator</text>
<text transform="translate(37.6,239.3) rotate(-90)" text-anchor="middle">Power (dB)</text>
<text y="517.6"><tspan x="314.8" font-family="DejaVu Sans, sans-serif" font-style="italic">λ</tspan><tspan x="342.8" font-family="DejaVu Sans, sans-serif">−</tspan><tspan x="379.8" font-family="DejaVu Sans, sans-serif" font-style="italic">λ</tspan><tspan x="401.0" dy="6.2" font-size="24.7" font-family="DejaVu Sans, sans-serif">0</tspan><tspan x="426.0" dy="-6.2">(nm)</tspan></text>
</g>
<text x="1.8" y="29.3" font-family='"Liberation Serif", "DejaVu Serif", serif' font-weight="bold" font-size="39.3">(a)</text>
<text x="907.2" y="29.5" font-family='"Liberation Serif", "DejaVu Serif", serif' font-weight="bold" font-size="39.3">(b)</text>
<path d="M718.8,53.5 L779.0,53.5 L779.0,407.9 L748.9,425.65 L718.8,407.9 Z" fill="url(#vg)" stroke="#000" stroke-width="2.36" stroke-linejoin="miter"/>
<g stroke="#000" stroke-width="2.36">
<line x1="779.0" y1="53.5" x2="789.3" y2="53.5"/>
<line x1="779.0" y1="124.4" x2="789.3" y2="124.4"/>
<line x1="779.0" y1="195.3" x2="789.3" y2="195.3"/>
<line x1="779.0" y1="266.1" x2="789.3" y2="266.1"/>
<line x1="779.0" y1="337.0" x2="789.3" y2="337.0"/>
<line x1="779.0" y1="407.9" x2="789.3" y2="407.9"/>
</g>
<g font-family='"Liberation Serif", "DejaVu Serif", serif' font-size="35.3" fill="#000">
<text x="799.4" y="66.1">1.3</text>
<text x="799.4" y="137.0">1.2</text>
<text x="799.4" y="207.9">1.1</text>
<text x="799.4" y="278.7">1.0</text>
<text x="799.4" y="349.6">0.9</text>
<text x="799.4" y="420.5">0.8</text>
<text transform="translate(881.5,238.8) rotate(-90)" text-anchor="middle">Voltages (V)</text>
</g>
<rect x="1049.0" y="53.5" width="546.3499999999999" height="372.15" fill="none" stroke="#000" stroke-width="2.36"/>
<g stroke="#000" stroke-width="2.36">
<line x1="1072.3" y1="425.65" x2="1072.3" y2="435.95"/>
<line x1="1264.0" y1="425.65" x2="1264.0" y2="435.95"/>
<line x1="1455.6" y1="425.65" x2="1455.6" y2="435.95"/>
</g>
<g stroke="#4575b4" stroke-width="2.36">
<line x1="1049.0" y1="410.3" x2="1038.7" y2="410.3"/>
<line x1="1049.0" y1="328.0" x2="1038.7" y2="328.0"/>
<line x1="1049.0" y1="245.8" x2="1038.7" y2="245.8"/>
<line x1="1049.0" y1="163.5" x2="1038.7" y2="163.5"/>
<line x1="1049.0" y1="81.2" x2="1038.7" y2="81.2"/>
</g>
<g stroke="#db7d2c" stroke-width="2.36">
<line x1="1595.35" y1="408.9" x2="1605.6499999999999" y2="408.9"/>
<line x1="1595.35" y1="284.0" x2="1605.6499999999999" y2="284.0"/>
<line x1="1595.35" y1="159.2" x2="1605.6499999999999" y2="159.2"/>
</g>
<polyline points="1073.4,77.9 1080.3,79.1 1087.2,77.9 1094.1,78.8 1101.1,79.1 1108.0,79.7 1114.9,79.7 1121.8,78.8 1128.7,81.8 1135.6,83.2 1142.5,83.2 1149.5,86.7 1156.4,88.0 1163.3,89.2 1170.2,90.3 1177.1,84.4 1184.0,85.0 1190.9,85.3 1197.9,85.8 1204.8,86.2 1211.7,86.6 1218.6,87.1 1225.5,83.6 1232.4,89.2 1239.3,91.5 1246.2,88.8 1253.2,88.0 1260.1,88.0 1267.0,87.6 1273.9,86.2 1280.8,85.3 1287.7,84.6 1294.6,83.9 1301.6,83.2 1308.5,82.5 1315.4,82.1 1322.3,82.8 1329.2,80.0 1336.1,78.5 1343.0,70.2 1350.0,72.2 1356.9,71.7 1363.8,73.9 1370.7,76.1 1377.6,77.3 1384.5,77.2 1391.4,74.5 1398.4,78.2 1405.3,75.0 1412.2,77.2 1419.1,81.7 1426.0,83.1 1432.9,85.5 1439.8,90.8 1446.8,101.2 1453.7,123.0 1460.6,163.8 1467.5,238.0 1474.4,346.9 1481.3,409.2 1488.2,358.2 1495.1,281.5 1502.1,228.2 1509.0,198.0 1515.9,178.2 1522.8,162.3 1529.7,156.6 1536.6,152.0 1543.5,149.0 1550.5,149.0 1557.4,151.7 1564.3,153.6 1571.2,155.5" fill="none" stroke="#4575b4" stroke-width="4.4" stroke-linejoin="round"/>
<g fill="#4575b4">
<circle cx="1073.4" cy="77.9" r="4.75"/>
<circle cx="1080.3" cy="79.1" r="4.75"/>
<circle cx="1087.2" cy="77.9" r="4.75"/>
<circle cx="1094.1" cy="78.8" r="4.75"/>
<circle cx="1101.1" cy="79.1" r="4.75"/>
<circle cx="1108.0" cy="79.7" r="4.75"/>
<circle cx="1114.9" cy="79.7" r="4.75"/>
<circle cx="1121.8" cy="78.8" r="4.75"/>
<circle cx="1128.7" cy="81.8" r="4.75"/>
<circle cx="1135.6" cy="83.2" r="4.75"/>
<circle cx="1142.5" cy="83.2" r="4.75"/>
<circle cx="1149.5" cy="86.7" r="4.75"/>
<circle cx="1156.4" cy="88.0" r="4.75"/>
<circle cx="1163.3" cy="89.2" r="4.75"/>
<circle cx="1170.2" cy="90.3" r="4.75"/>
<circle cx="1177.1" cy="84.4" r="4.75"/>
<circle cx="1184.0" cy="85.0" r="4.75"/>
<circle cx="1190.9" cy="85.3" r="4.75"/>
<circle cx="1197.9" cy="85.8" r="4.75"/>
<circle cx="1204.8" cy="86.2" r="4.75"/>
<circle cx="1211.7" cy="86.6" r="4.75"/>
<circle cx="1218.6" cy="87.1" r="4.75"/>
<circle cx="1225.5" cy="83.6" r="4.75"/>
<circle cx="1232.4" cy="89.2" r="4.75"/>
<circle cx="1239.3" cy="91.5" r="4.75"/>
<circle cx="1246.2" cy="88.8" r="4.75"/>
<circle cx="1253.2" cy="88.0" r="4.75"/>
<circle cx="1260.1" cy="88.0" r="4.75"/>
<circle cx="1267.0" cy="87.6" r="4.75"/>
<circle cx="1273.9" cy="86.2" r="4.75"/>
<circle cx="1280.8" cy="85.3" r="4.75"/>
<circle cx="1287.7" cy="84.6" r="4.75"/>
<circle cx="1294.6" cy="83.9" r="4.75"/>
<circle cx="1301.6" cy="83.2" r="4.75"/>
<circle cx="1308.5" cy="82.5" r="4.75"/>
<circle cx="1315.4" cy="82.1" r="4.75"/>
<circle cx="1322.3" cy="82.8" r="4.75"/>
<circle cx="1329.2" cy="80.0" r="4.75"/>
<circle cx="1336.1" cy="78.5" r="4.75"/>
<circle cx="1343.0" cy="70.2" r="4.75"/>
<circle cx="1350.0" cy="72.2" r="4.75"/>
<circle cx="1356.9" cy="71.7" r="4.75"/>
<circle cx="1363.8" cy="73.9" r="4.75"/>
<circle cx="1370.7" cy="76.1" r="4.75"/>
<circle cx="1377.6" cy="77.3" r="4.75"/>
<circle cx="1384.5" cy="77.2" r="4.75"/>
<circle cx="1391.4" cy="74.5" r="4.75"/>
<circle cx="1398.4" cy="78.2" r="4.75"/>
<circle cx="1405.3" cy="75.0" r="4.75"/>
<circle cx="1412.2" cy="77.2" r="4.75"/>
<circle cx="1419.1" cy="81.7" r="4.75"/>
<circle cx="1426.0" cy="83.1" r="4.75"/>
<circle cx="1432.9" cy="85.5" r="4.75"/>
<circle cx="1439.8" cy="90.8" r="4.75"/>
<circle cx="1446.8" cy="101.2" r="4.75"/>
<circle cx="1453.7" cy="123.0" r="4.75"/>
<circle cx="1460.6" cy="163.8" r="4.75"/>
<circle cx="1467.5" cy="238.0" r="4.75"/>
<circle cx="1474.4" cy="346.9" r="4.75"/>
<circle cx="1481.3" cy="409.2" r="4.75"/>
<circle cx="1488.2" cy="358.2" r="4.75"/>
<circle cx="1495.1" cy="281.5" r="4.75"/>
<circle cx="1502.1" cy="228.2" r="4.75"/>
<circle cx="1509.0" cy="198.0" r="4.75"/>
<circle cx="1515.9" cy="178.2" r="4.75"/>
<circle cx="1522.8" cy="162.3" r="4.75"/>
<circle cx="1529.7" cy="156.6" r="4.75"/>
<circle cx="1536.6" cy="152.0" r="4.75"/>
<circle cx="1543.5" cy="149.0" r="4.75"/>
<circle cx="1550.5" cy="149.0" r="4.75"/>
<circle cx="1557.4" cy="151.7" r="4.75"/>
<circle cx="1564.3" cy="153.6" r="4.75"/>
<circle cx="1571.2" cy="155.5" r="4.75"/>
</g>
<polyline points="1073.3,408.70 1075.8,408.70 1078.3,408.70 1080.8,408.70 1083.3,408.70 1085.8,408.70 1088.3,408.70 1090.8,408.70 1093.3,408.70 1095.8,408.70 1098.3,408.70 1100.8,408.70 1103.3,408.70 1105.8,408.70 1108.3,408.70 1110.8,408.70 1113.3,408.70 1115.8,408.70 1118.3,408.70 1120.8,408.70 1123.4,408.70 1125.9,408.70 1128.4,408.70 1130.9,408.70 1133.4,408.70 1135.9,408.70 1138.4,408.70 1140.9,408.70 1143.4,408.70 1145.9,408.70 1148.4,408.70 1150.9,408.70 1153.4,408.70 1155.9,408.70 1158.4,408.70 1160.9,408.70 1163.4,408.70 1165.9,408.70 1168.4,408.70 1170.9,408.70 1173.4,408.70 1175.9,408.70 1178.4,408.70 1180.9,408.70 1183.4,408.70 1185.9,408.70 1188.4,408.70 1190.9,408.70 1193.4,408.70 1195.9,408.70 1198.4,408.70 1200.9,408.70 1203.4,408.70 1205.9,408.70 1208.4,408.70 1210.9,408.70 1213.4,408.70 1215.9,408.70 1218.5,408.70 1221.0,408.70 1223.5,408.70 1226.0,408.70 1228.5,408.70 1231.0,408.70 1233.5,408.70 1236.0,408.70 1238.5,408.70 1241.0,408.70 1243.5,408.70 1246.0,408.70 1248.5,408.70 1251.0,408.70 1253.5,408.70 1256.0,408.70 1258.5,408.70 1261.0,408.70 1263.5,408.70 1266.0,408.70 1268.5,408.70 1271.0,408.70 1273.5,408.70 1276.0,408.70 1278.5,408.70 1281.0,408.70 1283.5,408.70 1286.0,408.70 1288.5,408.70 1291.0,408.70 1293.5,408.70 1296.0,408.69 1298.5,408.69 1301.0,408.69 1303.5,408.69 1306.0,408.69 1308.5,408.69 1311.1,408.69 1313.6,408.69 1316.1,408.68 1318.6,408.68 1321.1,408.68 1323.6,408.67 1326.1,408.67 1328.6,408.66 1331.1,408.66 1333.6,408.65 1336.1,408.64 1338.6,408.64 1341.1,408.63 1343.6,408.61 1346.1,408.60 1348.6,408.58 1351.1,408.57 1353.6,408.54 1356.1,408.52 1358.6,408.49 1361.1,408.46 1363.6,408.42 1366.1,408.37 1368.6,408.32 1371.1,408.26 1373.6,408.19 1376.1,408.11 1378.6,408.01 1381.1,407.90 1383.6,407.77 1386.1,407.63 1388.6,407.46 1391.1,407.26 1393.6,407.04 1396.1,406.78 1398.6,406.48 1401.1,406.14 1403.6,405.74 1406.2,405.29 1408.7,404.78 1411.2,404.19 1413.7,403.52 1416.2,402.75 1418.7,401.89 1421.2,400.92 1423.7,399.82 1426.2,398.59 1428.7,397.21 1431.2,395.68 1433.7,393.98 1436.2,392.11 1438.7,390.05 1441.2,387.80 1443.7,385.35 1446.2,382.70 1448.7,379.84 1451.2,376.77 1453.7,373.49 1456.2,370.00 1458.7,366.30 1461.2,362.40 1463.7,358.29 1466.2,353.99 1468.7,349.50 1471.2,344.83 1473.7,339.98 1476.2,334.95 1478.7,329.77 1481.2,324.42 1483.7,318.93 1486.2,313.29 1488.7,307.52 1491.2,301.61 1493.7,295.58 1496.2,289.43 1498.8,283.17 1501.3,276.80 1503.8,270.33 1506.3,263.76 1508.8,257.10 1511.3,250.36 1513.8,243.52 1516.3,236.61 1518.8,229.62 1521.3,222.56 1523.8,215.44 1526.3,208.24 1528.8,200.98 1531.3,193.66 1533.8,186.29 1536.3,178.86 1538.8,171.37 1541.3,163.84 1543.8,156.26 1546.3,148.63 1548.8,140.95 1551.3,133.24 1553.8,125.48 1556.3,117.68 1558.8,109.85 1561.3,101.98 1563.8,94.07 1566.3,86.14 1568.8,78.16 1571.3,70.16" fill="none" stroke="#db7d2c" stroke-width="4.4" stroke-linejoin="round" stroke-linecap="butt"/>
<rect x="1049.0" y="53.5" width="546.3499999999999" height="372.15" fill="none" stroke="#000" stroke-width="2.36"/>
<g font-family='"Liberation Serif", "DejaVu Serif", serif' font-size="35.3">
<text x="1072.3" y="471.4" text-anchor="middle" fill="#000">0.0</text>
<text x="1264.0" y="471.4" text-anchor="middle" fill="#000">0.5</text>
<text x="1455.6" y="471.4" text-anchor="middle" fill="#000">1.0</text>
<text x="1028.1" y="422.9" text-anchor="end" fill="#4575b4">0.00</text>
<text x="1028.1" y="340.6" text-anchor="end" fill="#4575b4">0.25</text>
<text x="1028.1" y="258.4" text-anchor="end" fill="#4575b4">0.50</text>
<text x="1028.1" y="176.1" text-anchor="end" fill="#4575b4">0.75</text>
<text x="1028.1" y="93.8" text-anchor="end" fill="#4575b4">1.00</text>
<text x="1615.7" y="421.5" fill="#db7d2c">0</text>
<text x="1615.7" y="296.6" fill="#db7d2c">5</text>
<text x="1615.7" y="171.8" fill="#db7d2c">10</text>
<text x="1321.4" y="36.0" text-anchor="middle" fill="#000">Optical, Electrical Characteristics</text>
<text x="1322.8" y="514.4" text-anchor="middle" fill="#000">Voltage (V)</text>
<text transform="translate(945.8,245.0) rotate(-90)" text-anchor="middle" fill="#4575b4">Power (a.u.)</text>
<text transform="translate(1686.5,240.0) rotate(-90)" text-anchor="middle" fill="#db7d2c">Current (mA)</text>
</g>
<rect x="1063.6" y="193.6" width="220" height="92.1" rx="5" ry="5" fill="#fff" fill-opacity="0.8" stroke="#ccc" stroke-opacity="0.8" stroke-width="2.9"/>
<line x1="1073.2" y1="215.7" x2="1137.3" y2="215.7" stroke="#4575b4" stroke-width="4.4"/>
<circle cx="1105.2" cy="215.7" r="4.75" fill="#4575b4"/>
<line x1="1073.2" y1="257.3" x2="1137.3" y2="257.3" stroke="#db7d2c" stroke-width="4.4"/>
<g font-family='"Liberation Serif", "DejaVu Serif", serif' font-size="29.4" fill="#000">
<text x="1158.6" y="225.5">Optical</text>
<text x="1158.6" y="267.5">Electrical</text>
</g>
</svg>
</body></html>
